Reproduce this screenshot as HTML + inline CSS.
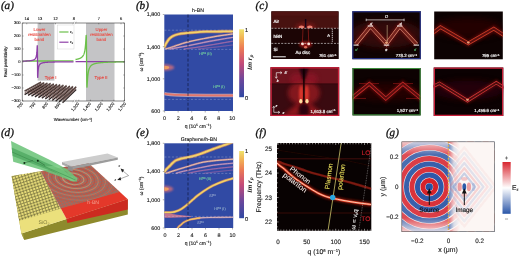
<!DOCTYPE html>
<html><head><meta charset="utf-8"><title>Figure</title>
<style>
html,body{margin:0;padding:0;background:#fff;}
body{width:520px;height:259px;overflow:hidden;}
svg{display:block;filter:blur(0.3px);}
</style></head><body>
<svg width="520" height="259" viewBox="0 0 520 259" text-rendering="geometricPrecision">
<defs>
<filter id="b03" filterUnits="userSpaceOnUse" x="0" y="0" width="520" height="259"><feGaussianBlur stdDeviation="0.3"/></filter>
<filter id="b04" filterUnits="userSpaceOnUse" x="0" y="0" width="520" height="259"><feGaussianBlur stdDeviation="0.4"/></filter>
<filter id="b05" filterUnits="userSpaceOnUse" x="0" y="0" width="520" height="259"><feGaussianBlur stdDeviation="0.5"/></filter>
<filter id="b1" filterUnits="userSpaceOnUse" x="0" y="0" width="520" height="259"><feGaussianBlur stdDeviation="1"/></filter>
<filter id="b2" filterUnits="userSpaceOnUse" x="0" y="0" width="520" height="259"><feGaussianBlur stdDeviation="2"/></filter>
<filter id="b3" filterUnits="userSpaceOnUse" x="0" y="0" width="520" height="259"><feGaussianBlur stdDeviation="3"/></filter>
<linearGradient id="cbar" x1="0" y1="1" x2="0" y2="0">
<stop offset="0" stop-color="#2f48a2"/><stop offset="0.25" stop-color="#6a479c"/><stop offset="0.5" stop-color="#c44a78"/><stop offset="0.72" stop-color="#ec7a55"/><stop offset="0.88" stop-color="#f2b556"/><stop offset="1" stop-color="#efe26a"/>
</linearGradient>
<linearGradient id="cbarg" x1="0" y1="0" x2="0" y2="1">
<stop offset="0" stop-color="#d8262f"/><stop offset="0.5" stop-color="#ffffff"/><stop offset="1" stop-color="#2a56a8"/>
</linearGradient>
</defs>

<rect x="0" y="0" width="520" height="259" fill="#fff"/>
<text x="0.9" y="9.4" font-size="11.2" fill="#111" text-anchor="start" font-family='"Liberation Serif", "DejaVu Serif", serif' font-style="italic"  stroke="#111" stroke-width="0.3">(a)</text>
<rect x="37.6" y="23" width="16.8" height="78" fill="#c4c4c6"/>
<rect x="86" y="23" width="28.5" height="78" fill="#c4c4c6"/>
<rect x="23" y="80.6" width="55.5" height="20.2" fill="#fff"/>
<g><line x1="24.60" y1="94.60" x2="41.00" y2="84.92" stroke="#2c2222" stroke-width="1.3"/><line x1="24.60" y1="92.90" x2="41.00" y2="83.56" stroke="#8a6a64" stroke-width="1.0"/><line x1="24.60" y1="91.20" x2="41.00" y2="82.20" stroke="#3a2a28" stroke-width="1.5"/><line x1="24.60" y1="90.65" x2="41.00" y2="81.76" stroke="#a08880" stroke-width="0.45"/><line x1="28.05" y1="95.35" x2="44.20" y2="85.34" stroke="#2c2222" stroke-width="1.3"/><line x1="28.05" y1="93.65" x2="44.20" y2="83.98" stroke="#8a6a64" stroke-width="1.0"/><line x1="28.05" y1="91.95" x2="44.20" y2="82.62" stroke="#3a2a28" stroke-width="1.5"/><line x1="28.05" y1="91.40" x2="44.20" y2="82.18" stroke="#a08880" stroke-width="0.45"/><line x1="31.50" y1="96.10" x2="47.40" y2="85.76" stroke="#2c2222" stroke-width="1.3"/><line x1="31.50" y1="94.40" x2="47.40" y2="84.40" stroke="#8a6a64" stroke-width="1.0"/><line x1="31.50" y1="92.70" x2="47.40" y2="83.04" stroke="#3a2a28" stroke-width="1.5"/><line x1="31.50" y1="92.15" x2="47.40" y2="82.60" stroke="#a08880" stroke-width="0.45"/><line x1="34.95" y1="96.85" x2="50.60" y2="86.18" stroke="#2c2222" stroke-width="1.3"/><line x1="34.95" y1="95.15" x2="50.60" y2="84.82" stroke="#8a6a64" stroke-width="1.0"/><line x1="34.95" y1="93.45" x2="50.60" y2="83.46" stroke="#3a2a28" stroke-width="1.5"/><line x1="34.95" y1="92.90" x2="50.60" y2="83.02" stroke="#a08880" stroke-width="0.45"/><line x1="38.40" y1="97.60" x2="53.80" y2="86.60" stroke="#2c2222" stroke-width="1.3"/><line x1="38.40" y1="95.90" x2="53.80" y2="85.24" stroke="#8a6a64" stroke-width="1.0"/><line x1="38.40" y1="94.20" x2="53.80" y2="83.88" stroke="#3a2a28" stroke-width="1.5"/><line x1="38.40" y1="93.65" x2="53.80" y2="83.44" stroke="#a08880" stroke-width="0.45"/><line x1="41.85" y1="98.35" x2="57.00" y2="87.02" stroke="#2c2222" stroke-width="1.3"/><line x1="41.85" y1="96.65" x2="57.00" y2="85.66" stroke="#8a6a64" stroke-width="1.0"/><line x1="41.85" y1="94.95" x2="57.00" y2="84.30" stroke="#3a2a28" stroke-width="1.5"/><line x1="41.85" y1="94.40" x2="57.00" y2="83.86" stroke="#a08880" stroke-width="0.45"/><line x1="45.30" y1="99.10" x2="60.20" y2="87.44" stroke="#2c2222" stroke-width="1.3"/><line x1="45.30" y1="97.40" x2="60.20" y2="86.08" stroke="#8a6a64" stroke-width="1.0"/><line x1="45.30" y1="95.70" x2="60.20" y2="84.72" stroke="#3a2a28" stroke-width="1.5"/><line x1="45.30" y1="95.15" x2="60.20" y2="84.28" stroke="#a08880" stroke-width="0.45"/><line x1="48.75" y1="99.85" x2="63.40" y2="87.86" stroke="#2c2222" stroke-width="1.3"/><line x1="48.75" y1="98.15" x2="63.40" y2="86.50" stroke="#8a6a64" stroke-width="1.0"/><line x1="48.75" y1="96.45" x2="63.40" y2="85.14" stroke="#3a2a28" stroke-width="1.5"/><line x1="48.75" y1="95.90" x2="63.40" y2="84.70" stroke="#a08880" stroke-width="0.45"/><line x1="52.20" y1="100.60" x2="66.60" y2="88.28" stroke="#2c2222" stroke-width="1.3"/><line x1="52.20" y1="98.90" x2="66.60" y2="86.92" stroke="#8a6a64" stroke-width="1.0"/><line x1="52.20" y1="97.20" x2="66.60" y2="85.56" stroke="#3a2a28" stroke-width="1.5"/><line x1="52.20" y1="96.65" x2="66.60" y2="85.12" stroke="#a08880" stroke-width="0.45"/><line x1="55.65" y1="101.35" x2="69.80" y2="88.70" stroke="#2c2222" stroke-width="1.3"/><line x1="55.65" y1="99.65" x2="69.80" y2="87.34" stroke="#8a6a64" stroke-width="1.0"/><line x1="55.65" y1="97.95" x2="69.80" y2="85.98" stroke="#3a2a28" stroke-width="1.5"/><line x1="55.65" y1="97.40" x2="69.80" y2="85.54" stroke="#a08880" stroke-width="0.45"/><line x1="59.10" y1="102.10" x2="73.00" y2="89.12" stroke="#2c2222" stroke-width="1.3"/><line x1="59.10" y1="100.40" x2="73.00" y2="87.76" stroke="#8a6a64" stroke-width="1.0"/><line x1="59.10" y1="98.70" x2="73.00" y2="86.40" stroke="#3a2a28" stroke-width="1.5"/><line x1="59.10" y1="98.15" x2="73.00" y2="85.96" stroke="#a08880" stroke-width="0.45"/><line x1="62.55" y1="102.85" x2="76.20" y2="89.54" stroke="#2c2222" stroke-width="1.3"/><line x1="62.55" y1="101.15" x2="76.20" y2="88.18" stroke="#8a6a64" stroke-width="1.0"/><line x1="62.55" y1="99.45" x2="76.20" y2="86.82" stroke="#3a2a28" stroke-width="1.5"/><line x1="62.55" y1="98.90" x2="76.20" y2="86.38" stroke="#a08880" stroke-width="0.45"/></g>
<polyline points="22.50,61.03 22.62,61.03 22.75,61.03 22.88,61.03 23.00,61.03 23.12,61.03 23.25,61.03 23.38,61.03 23.50,61.03 23.62,61.03 23.75,61.03 23.88,61.03 24.00,61.03 24.12,61.03 24.25,61.03 24.38,61.03 24.50,61.03 24.62,61.03 24.75,61.03 24.88,61.03 25.00,61.03 25.12,61.03 25.25,61.02 25.38,61.02 25.50,61.02 25.62,61.02 25.75,61.02 25.88,61.02 26.00,61.02 26.12,61.02 26.25,61.02 26.38,61.02 26.50,61.02 26.62,61.02 26.75,61.02 26.88,61.02 27.00,61.02 27.12,61.02 27.25,61.02 27.38,61.02 27.50,61.02 27.62,61.02 27.75,61.02 27.88,61.02 28.00,61.02 28.12,61.02 28.25,61.02 28.38,61.02 28.50,61.02 28.62,61.02 28.75,61.02 28.88,61.02 29.00,61.02 29.12,61.02 29.25,61.02 29.38,61.02 29.50,61.02 29.62,61.02 29.75,61.02 29.88,61.02 30.00,61.02 30.12,61.02 30.25,61.02 30.38,61.02 30.50,61.02 30.62,61.02 30.75,61.02 30.88,61.02 31.00,61.02 31.12,61.02 31.25,61.02 31.38,61.02 31.50,61.02 31.62,61.02 31.75,61.02 31.88,61.02 32.00,61.01 32.12,61.01 32.25,61.01 32.38,61.01 32.50,61.01 32.62,61.01 32.75,61.01 32.88,61.01 33.00,61.01 33.12,61.01 33.25,61.01 33.38,61.01 33.50,61.01 33.62,61.01 33.75,61.01 33.88,61.01 34.00,61.01 34.12,61.01 34.25,61.01 34.38,61.01 34.50,61.01 34.62,61.01 34.75,61.01 34.88,61.01 35.00,61.01 35.12,61.01 35.25,61.01 35.38,61.01 35.50,61.01 35.62,61.01 35.75,61.01 35.88,61.01 36.00,61.01 36.12,61.01 36.25,61.01 36.38,61.01 36.50,61.01 36.62,61.01 36.75,61.01 36.88,61.01 37.00,61.01 37.12,61.01 37.25,61.01 37.38,61.01 37.50,61.01 37.62,61.01 37.75,61.01 37.88,61.01 38.00,61.01 38.12,61.01 38.25,61.00 38.38,61.00 38.50,61.00 38.62,61.00 38.75,61.00 38.88,61.00 39.00,61.00 39.12,61.00 39.25,61.00 39.38,61.00 39.50,61.00 39.62,61.00 39.75,61.00 39.88,61.00 40.00,61.00 40.12,61.00 40.25,61.00 40.38,61.00 40.50,61.00 40.62,61.00 40.75,61.00 40.88,61.00 41.00,61.00 41.12,61.00 41.25,61.00 41.38,61.00 41.50,61.00 41.62,61.00 41.75,61.00 41.88,61.00 42.00,61.00 42.12,61.00 42.25,61.00 42.38,61.00 42.50,61.00 42.62,61.00 42.75,61.00 42.88,61.00 43.00,61.00 43.12,61.00 43.25,61.00 43.38,61.00 43.50,61.00 43.62,61.00 43.75,61.00 43.88,60.99 44.00,60.99 44.12,60.99 44.25,60.99 44.38,60.99 44.50,60.99 44.62,60.99 44.75,60.99 44.88,60.99 45.00,60.99 45.12,60.99 45.25,60.99 45.38,60.99 45.50,60.99 45.62,60.99 45.75,60.99 45.88,60.99 46.00,60.99 46.12,60.99 46.25,60.99 46.38,60.99 46.50,60.99 46.62,60.99 46.75,60.99 46.88,60.99 47.00,60.99 47.12,60.99 47.25,60.99 47.38,60.99 47.50,60.99 47.62,60.99 47.75,60.99 47.88,60.99 48.00,60.99 48.12,60.99 48.25,60.99 48.38,60.99 48.50,60.99 48.62,60.99 48.75,60.99 48.88,60.99 49.00,60.98 49.12,60.98 49.25,60.98 49.38,60.98 49.50,60.98 49.62,60.98 49.75,60.98 49.88,60.98 50.00,60.98 50.12,60.98 50.25,60.98 50.38,60.98 50.50,60.98 50.62,60.98 50.75,60.98 50.88,60.98 51.00,60.98 51.12,60.98 51.25,60.98 51.38,60.98 51.50,60.98 51.62,60.98 51.75,60.98 51.88,60.98 52.00,60.98 52.12,60.98 52.25,60.98 52.38,60.98 52.50,60.98 52.62,60.98 52.75,60.98 52.88,60.98 53.00,60.98 53.12,60.98 53.25,60.98 53.38,60.98 53.50,60.98 53.62,60.98 53.75,60.98 53.88,60.97 54.00,60.97 54.12,60.97 54.25,60.97 54.38,60.97 54.50,60.97 54.62,60.97 54.75,60.97 54.88,60.97 55.00,60.97 55.12,60.97 55.25,60.97 55.38,60.97 55.50,60.97 55.62,60.97 55.75,60.97 55.88,60.97 56.00,60.97 56.12,60.97 56.25,60.97 56.38,60.97 56.50,60.97 56.62,60.97 56.75,60.97 56.88,60.97 57.00,60.97 57.12,60.97 57.25,60.97 57.38,60.97 57.50,60.97 57.62,60.97 57.75,60.97 57.88,60.97 58.00,60.97 58.12,60.97 58.25,60.97 58.38,60.96 58.50,60.96 58.62,60.96 58.75,60.96 58.88,60.96 59.00,60.96 59.12,60.96 59.25,60.96 59.38,60.96 59.50,60.96 59.62,60.96 59.75,60.96 59.88,60.96 60.00,60.96 60.12,60.96 60.25,60.96 60.38,60.96 60.50,60.96 60.62,60.96 60.75,60.96 60.88,60.96 61.00,60.96 61.12,60.96 61.25,60.96 61.38,60.96 61.50,60.96 61.62,60.96 61.75,60.96 61.88,60.96 62.00,60.96 62.12,60.96 62.25,60.96 62.38,60.96 62.50,60.95 62.62,60.95 62.75,60.95 62.88,60.95 63.00,60.95 63.12,60.95 63.25,60.95 63.38,60.95 63.50,60.95 63.62,60.95 63.75,60.95 63.88,60.95 64.00,60.95 64.12,60.95 64.25,60.95 64.38,60.95 64.50,60.95 64.62,60.95 64.75,60.95 64.88,60.95 65.00,60.95 65.12,60.95 65.25,60.95 65.38,60.95 65.50,60.95 65.62,60.95 65.75,60.95 65.88,60.95 66.00,60.95 66.12,60.95 66.25,60.95 66.38,60.94 66.50,60.94 66.62,60.94 66.75,60.94 66.88,60.94 67.00,60.94 67.12,60.94 67.25,60.94 67.38,60.94 67.50,60.94 67.62,60.94 67.75,60.94 67.88,60.94 68.00,60.94 68.12,60.94 68.25,60.94 68.38,60.94 68.50,60.94 68.62,60.94 68.75,60.94 68.88,60.94 69.00,60.94 69.12,60.94 69.25,60.94 69.38,60.94 69.50,60.94 69.62,60.94 69.75,60.94 69.88,60.94 70.00,60.93 70.12,60.93 70.25,60.93 70.38,60.93 70.50,60.93 70.62,60.93 70.75,60.93 70.88,60.93 71.00,60.93 71.12,60.93 71.25,60.93 71.38,60.93 71.50,60.93 71.62,60.93 71.75,60.93 71.88,60.93 72.00,60.93 72.12,60.93 72.25,60.93 72.38,60.93 72.50,60.93 72.62,60.93 72.75,60.93 72.88,60.93 73.00,60.93 73.12,60.93 73.25,60.93 73.38,60.93 73.50,60.92" fill="none" stroke="#6cc04a" stroke-width="1.3" stroke-linejoin="round"/>
<polyline points="22.50,61.17 22.62,61.16 22.75,61.16 22.88,61.15 23.00,61.15 23.12,61.15 23.25,61.14 23.38,61.14 23.50,61.13 23.62,61.13 23.75,61.13 23.88,61.12 24.00,61.12 24.12,61.11 24.25,61.11 24.38,61.10 24.50,61.10 24.62,61.09 24.75,61.09 24.88,61.08 25.00,61.08 25.12,61.07 25.25,61.07 25.38,61.06 25.50,61.06 25.62,61.05 25.75,61.05 25.88,61.04 26.00,61.03 26.12,61.03 26.25,61.02 26.38,61.01 26.50,61.01 26.62,61.00 26.75,60.99 26.88,60.99 27.00,60.98 27.12,60.97 27.25,60.97 27.38,60.96 27.50,60.95 27.62,60.94 27.75,60.93 27.88,60.92 28.00,60.92 28.12,60.91 28.25,60.90 28.38,60.89 28.50,60.88 28.62,60.87 28.75,60.86 28.88,60.85 29.00,60.83 29.12,60.82 29.25,60.81 29.38,60.80 29.50,60.79 29.62,60.77 29.75,60.76 29.88,60.75 30.00,60.73 30.12,60.72 30.25,60.70 30.38,60.69 30.50,60.67 30.62,60.65 30.75,60.64 30.88,60.62 31.00,60.60 31.12,60.58 31.25,60.56 31.38,60.54 31.50,60.52 31.62,60.49 31.75,60.47 31.88,60.45 32.00,60.42 32.12,60.39 32.25,60.36 32.38,60.33 32.50,60.30 32.62,60.27 32.75,60.23 32.88,60.20 33.00,60.16 33.12,60.12 33.25,60.07 33.38,60.03 33.50,59.98 33.62,59.93 33.75,59.87 33.88,59.81 34.00,59.75 34.12,59.68 34.25,59.61 34.38,59.53 34.50,59.44 34.62,59.35 34.75,59.25 34.88,59.14 35.00,59.02 35.12,58.88 35.25,58.73 35.38,58.57 35.50,58.38 35.62,58.17 35.75,57.93 35.88,57.66 36.00,57.34 36.12,56.97 36.25,56.53 36.38,56.00 36.50,55.35 36.62,54.54 36.75,53.51 36.88,52.17 37.00,50.39 37.12,48.11 37.25,45.75 37.38,47.00 37.50,61.62 37.62,76.21 37.75,77.45 37.88,75.09 38.00,72.80 38.12,71.03 38.25,69.69 38.38,68.66 38.50,67.85 38.62,67.20 38.75,66.67 38.88,66.23 39.00,65.86 39.12,65.54 39.25,65.26 39.38,65.03 39.50,64.82 39.62,64.63 39.75,64.46 39.88,64.32 40.00,64.18 40.12,64.06 40.25,63.95 40.38,63.85 40.50,63.76 40.62,63.67 40.75,63.59 40.88,63.52 41.00,63.45 41.12,63.39 41.25,63.33 41.38,63.27 41.50,63.22 41.62,63.17 41.75,63.13 41.88,63.08 42.00,63.04 42.12,63.00 42.25,62.97 42.38,62.93 42.50,62.90 42.62,62.87 42.75,62.84 42.88,62.81 43.00,62.78 43.12,62.75 43.25,62.73 43.38,62.70 43.50,62.68 43.62,62.66 43.75,62.64 43.88,62.62 44.00,62.60 44.12,62.58 44.25,62.56 44.38,62.54 44.50,62.53 44.62,62.51 44.75,62.50 44.88,62.48 45.00,62.47 45.12,62.45 45.25,62.44 45.38,62.42 45.50,62.41 45.62,62.40 45.75,62.39 45.88,62.38 46.00,62.36 46.12,62.35 46.25,62.34 46.38,62.33 46.50,62.32 46.62,62.31 46.75,62.30 46.88,62.29 47.00,62.28 47.12,62.27 47.25,62.27 47.38,62.26 47.50,62.25 47.62,62.24 47.75,62.23 47.88,62.23 48.00,62.22 48.12,62.21 48.25,62.20 48.38,62.20 48.50,62.19 48.62,62.18 48.75,62.18 48.88,62.17 49.00,62.16 49.12,62.16 49.25,62.15 49.38,62.15 49.50,62.14 49.62,62.14 49.75,62.13 49.88,62.12 50.00,62.12 50.12,62.11 50.25,62.11 50.38,62.10 50.50,62.10 50.62,62.09 50.75,62.09 50.88,62.09 51.00,62.08 51.12,62.08 51.25,62.07 51.38,62.07 51.50,62.06 51.62,62.06 51.75,62.06 51.88,62.05 52.00,62.05 52.12,62.04 52.25,62.04 52.38,62.04 52.50,62.03 52.62,62.03 52.75,62.03 52.88,62.02 53.00,62.02 53.12,62.02 53.25,62.01 53.38,62.01 53.50,62.01 53.62,62.00 53.75,62.00 53.88,62.00 54.00,61.99 54.12,61.99 54.25,61.99 54.38,61.99 54.50,61.98 54.62,61.98 54.75,61.98 54.88,61.97 55.00,61.97 55.12,61.97 55.25,61.97 55.38,61.96 55.50,61.96 55.62,61.96 55.75,61.96 55.88,61.95 56.00,61.95 56.12,61.95 56.25,61.95 56.38,61.94 56.50,61.94 56.62,61.94 56.75,61.94 56.88,61.94 57.00,61.93 57.12,61.93 57.25,61.93 57.38,61.93 57.50,61.93 57.62,61.92 57.75,61.92 57.88,61.92 58.00,61.92 58.12,61.92 58.25,61.91 58.38,61.91 58.50,61.91 58.62,61.91 58.75,61.91 58.88,61.90 59.00,61.90 59.12,61.90 59.25,61.90 59.38,61.90 59.50,61.90 59.62,61.89 59.75,61.89 59.88,61.89 60.00,61.89 60.12,61.89 60.25,61.89 60.38,61.88 60.50,61.88 60.62,61.88 60.75,61.88 60.88,61.88 61.00,61.88 61.12,61.88 61.25,61.87 61.38,61.87 61.50,61.87 61.62,61.87 61.75,61.87 61.88,61.87 62.00,61.87 62.12,61.86 62.25,61.86 62.38,61.86 62.50,61.86 62.62,61.86 62.75,61.86 62.88,61.86 63.00,61.86 63.12,61.85 63.25,61.85 63.38,61.85 63.50,61.85 63.62,61.85 63.75,61.85 63.88,61.85 64.00,61.85 64.12,61.84 64.25,61.84 64.38,61.84 64.50,61.84 64.62,61.84 64.75,61.84 64.88,61.84 65.00,61.84 65.12,61.84 65.25,61.83 65.38,61.83 65.50,61.83 65.62,61.83 65.75,61.83 65.88,61.83 66.00,61.83 66.12,61.83 66.25,61.83 66.38,61.83 66.50,61.82 66.62,61.82 66.75,61.82 66.88,61.82 67.00,61.82 67.12,61.82 67.25,61.82 67.38,61.82 67.50,61.82 67.62,61.82 67.75,61.82 67.88,61.81 68.00,61.81 68.12,61.81 68.25,61.81 68.38,61.81 68.50,61.81 68.62,61.81 68.75,61.81 68.88,61.81 69.00,61.81 69.12,61.81 69.25,61.81 69.38,61.80 69.50,61.80 69.62,61.80 69.75,61.80 69.88,61.80 70.00,61.80 70.12,61.80 70.25,61.80 70.38,61.80 70.50,61.80 70.62,61.80 70.75,61.80 70.88,61.80 71.00,61.79 71.12,61.79 71.25,61.79 71.38,61.79 71.50,61.79 71.62,61.79 71.75,61.79 71.88,61.79 72.00,61.79 72.12,61.79 72.25,61.79 72.38,61.79 72.50,61.79 72.62,61.79 72.75,61.79 72.88,61.78 73.00,61.78 73.12,61.78 73.25,61.78 73.38,61.78 73.50,61.78" fill="none" stroke="#8e3fa8" stroke-width="1.3" stroke-linejoin="round"/>
<polyline points="75.53,61.65 75.59,61.65 75.65,61.65 75.71,61.65 75.77,61.65 75.83,61.65 75.88,61.65 75.94,61.65 76.00,61.65 76.06,61.65 76.12,61.65 76.18,61.65 76.23,61.65 76.29,61.65 76.35,61.65 76.41,61.65 76.47,61.65 76.53,61.65 76.59,61.65 76.64,61.65 76.70,61.65 76.76,61.65 76.82,61.65 76.88,61.65 76.94,61.65 77.00,61.65 77.05,61.65 77.11,61.65 77.17,61.65 77.23,61.65 77.29,61.65 77.35,61.65 77.40,61.65 77.46,61.65 77.52,61.65 77.58,61.65 77.64,61.65 77.70,61.65 77.76,61.65 77.81,61.65 77.87,61.65 77.93,61.65 77.99,61.65 78.05,61.65 78.11,61.65 78.17,61.65 78.22,61.65 78.28,61.65 78.34,61.65 78.40,61.65 78.46,61.65 78.52,61.65 78.57,61.65 78.63,61.65 78.69,61.65 78.75,61.65 78.81,61.65 78.87,61.65 78.93,61.65 78.98,61.65 79.04,61.65 79.10,61.65 79.16,61.65 79.22,61.65 79.28,61.65 79.33,61.65 79.39,61.65 79.45,61.65 79.51,61.65 79.57,61.65 79.63,61.65 79.69,61.65 79.74,61.65 79.80,61.65 79.86,61.65 79.92,61.65 79.98,61.65 80.04,61.65 80.10,61.65 80.15,61.65 80.21,61.65 80.27,61.65 80.33,61.65 80.39,61.65 80.45,61.65 80.50,61.65 80.56,61.65 80.62,61.65 80.68,61.65 80.74,61.65 80.80,61.65 80.86,61.65 80.91,61.65 80.97,61.65 81.03,61.65 81.09,61.65 81.15,61.65 81.21,61.65 81.27,61.65 81.32,61.65 81.38,61.65 81.44,61.65 81.50,61.65 81.56,61.65 81.62,61.65 81.67,61.65 81.73,61.65 81.79,61.65 81.85,61.65 81.91,61.65 81.97,61.65 82.03,61.65 82.08,61.65 82.14,61.65 82.20,61.65 82.26,61.65 82.32,61.65 82.38,61.65 82.44,61.65 82.49,61.65 82.55,61.65 82.61,61.65 82.67,61.65 82.73,61.65 82.79,61.65 82.84,61.65 82.90,61.65 82.96,61.65 83.02,61.65 83.08,61.65 83.14,61.65 83.20,61.65 83.25,61.65 83.31,61.65 83.37,61.65 83.43,61.65 83.49,61.65 83.55,61.65 83.61,61.65 83.66,61.65 83.72,61.65 83.78,61.65 83.84,61.65 83.90,61.65 83.96,61.65 84.02,61.65 84.07,61.65 84.13,61.65 84.19,61.65 84.25,61.65 84.31,61.65 84.37,61.65 84.42,61.65 84.48,61.65 84.54,61.65 84.60,61.65 84.66,61.65 84.72,61.65 84.78,61.65 84.83,61.65 84.89,61.65 84.95,61.65 85.01,61.65 85.07,61.65 85.13,61.65 85.19,61.65 85.24,61.65 85.30,61.65 85.36,61.65 85.42,61.65 85.48,61.65 85.54,61.65 85.59,61.65 85.65,61.65 85.71,61.65 85.77,61.65 85.83,61.65 85.89,61.65 85.95,61.65 86.00,61.65 86.06,61.65 86.12,61.65 86.18,61.65 86.24,61.65 86.30,61.65 86.36,61.65 86.41,61.65 86.47,61.65 86.53,61.65 86.59,61.65 86.65,61.65 86.71,61.65 86.76,61.65 86.82,61.65 86.88,61.65 86.94,61.65 87.00,61.65 87.06,61.65 87.12,61.65 87.17,61.65 87.23,61.65 87.29,61.65 87.35,61.65 87.41,61.65 87.47,61.65 87.53,61.65 87.58,61.65 87.64,61.65 87.70,61.65 87.76,61.65 87.82,61.65 87.88,61.65 87.93,61.65 87.99,61.65 88.05,61.65 88.11,61.65 88.17,61.65 88.23,61.65 88.29,61.65 88.34,61.65 88.40,61.65 88.46,61.65 88.52,61.65 88.58,61.65 88.64,61.65 88.69,61.65 88.75,61.65 88.81,61.65 88.87,61.65 88.93,61.65 88.99,61.65 89.05,61.65 89.10,61.65 89.16,61.65 89.22,61.65 89.28,61.65 89.34,61.65 89.40,61.65 89.46,61.65 89.51,61.65 89.57,61.65 89.63,61.65 89.69,61.65 89.75,61.65 89.81,61.65 89.86,61.65 89.92,61.65 89.98,61.65 90.04,61.65 90.10,61.65 90.16,61.65 90.22,61.65 90.27,61.65 90.33,61.65 90.39,61.65 90.45,61.65 90.51,61.65 90.57,61.65 90.63,61.64 90.68,61.64 90.74,61.64 90.80,61.64 90.86,61.64 90.92,61.64 90.98,61.64 91.03,61.64 91.09,61.64 91.15,61.64 91.21,61.64 91.27,61.64 91.33,61.64 91.39,61.64 91.44,61.64 91.50,61.64 91.56,61.64 91.62,61.64 91.68,61.64 91.74,61.64 91.80,61.64 91.85,61.64 91.91,61.64 91.97,61.64 92.03,61.64 92.09,61.64 92.15,61.64 92.20,61.64 92.26,61.64 92.32,61.64 92.38,61.64 92.44,61.64 92.50,61.64 92.56,61.64 92.61,61.64 92.67,61.64 92.73,61.64 92.79,61.64 92.85,61.64 92.91,61.64 92.97,61.64 93.02,61.64 93.08,61.64 93.14,61.64 93.20,61.64 93.26,61.64 93.32,61.64 93.38,61.64 93.43,61.64 93.49,61.64 93.55,61.64 93.61,61.64 93.67,61.64 93.73,61.64 93.78,61.64 93.84,61.64 93.90,61.64 93.96,61.64 94.02,61.64 94.08,61.64 94.14,61.64 94.19,61.64 94.25,61.64 94.31,61.64 94.37,61.64 94.43,61.64 94.49,61.64 94.55,61.64 94.60,61.64 94.66,61.64 94.72,61.64 94.78,61.64 94.84,61.64 94.90,61.64 94.95,61.64 95.01,61.64 95.07,61.64 95.13,61.64 95.19,61.64 95.25,61.64 95.31,61.64 95.36,61.64 95.42,61.64 95.48,61.64 95.54,61.64 95.60,61.64 95.66,61.64 95.72,61.64 95.77,61.64 95.83,61.64 95.89,61.64 95.95,61.64 96.01,61.64 96.07,61.64 96.12,61.64 96.18,61.64 96.24,61.64 96.30,61.64 96.36,61.64 96.42,61.64 96.48,61.64 96.53,61.64 96.59,61.64 96.65,61.64 96.71,61.64 96.77,61.64 96.83,61.64 96.89,61.64 96.94,61.64 97.00,61.64 97.06,61.64 97.12,61.64 97.18,61.64 97.24,61.64 97.29,61.64 97.35,61.64 97.41,61.64 97.47,61.64 97.53,61.64 97.59,61.64 97.65,61.64 97.70,61.64 97.76,61.64 97.82,61.64 97.88,61.64 97.94,61.64 98.00,61.64 98.05,61.64 98.11,61.64 98.17,61.64 98.23,61.64 98.29,61.64 98.35,61.64 98.41,61.64 98.46,61.64 98.52,61.64 98.58,61.64 98.64,61.64 98.70,61.64 98.76,61.64 98.82,61.64 98.87,61.64 98.93,61.64 98.99,61.64 99.05,61.64 99.11,61.64 99.17,61.64 99.22,61.64 99.28,61.64 99.34,61.64 99.40,61.64 99.46,61.64 99.52,61.64 99.58,61.64 99.63,61.64 99.69,61.64 99.75,61.64 99.81,61.64 99.87,61.64 99.93,61.64 99.99,61.64 100.04,61.64 100.10,61.64 100.16,61.64 100.22,61.64 100.28,61.64 100.34,61.64 100.39,61.64 100.45,61.64 100.51,61.64 100.57,61.64 100.63,61.64 100.69,61.64 100.75,61.64 100.80,61.64 100.86,61.64 100.92,61.64 100.98,61.64 101.04,61.64 101.10,61.64 101.16,61.64 101.21,61.64 101.27,61.64 101.33,61.64 101.39,61.64 101.45,61.64 101.51,61.64 101.56,61.64 101.62,61.64 101.68,61.64 101.74,61.64 101.80,61.64 101.86,61.64 101.92,61.64 101.97,61.64 102.03,61.64 102.09,61.64 102.15,61.64 102.21,61.64 102.27,61.64 102.33,61.64 102.38,61.64 102.44,61.64 102.50,61.64 102.56,61.64 102.62,61.64 102.68,61.64 102.73,61.64 102.79,61.64 102.85,61.64 102.91,61.64 102.97,61.64 103.03,61.64 103.09,61.64 103.14,61.64 103.20,61.64 103.26,61.64 103.32,61.64 103.38,61.64 103.44,61.64 103.50,61.64 103.55,61.64 103.61,61.64 103.67,61.64 103.73,61.64 103.79,61.64 103.85,61.64 103.91,61.64 103.96,61.64 104.02,61.64 104.08,61.64 104.14,61.64 104.20,61.64 104.26,61.64 104.31,61.64 104.37,61.64 104.43,61.64 104.49,61.64 104.55,61.64 104.61,61.64 104.67,61.64 104.72,61.64 104.78,61.64 104.84,61.64 104.90,61.64 104.96,61.64 105.02,61.64 105.08,61.64 105.13,61.64 105.19,61.64 105.25,61.64 105.31,61.64 105.37,61.64 105.43,61.64 105.48,61.64 105.54,61.64 105.60,61.64 105.66,61.64 105.72,61.64 105.78,61.64 105.84,61.64 105.89,61.64 105.95,61.64 106.01,61.64 106.07,61.64 106.13,61.64 106.19,61.64 106.25,61.64 106.30,61.64 106.36,61.64 106.42,61.64 106.48,61.64 106.54,61.64 106.60,61.64 106.65,61.64 106.71,61.64 106.77,61.64 106.83,61.64 106.89,61.64 106.95,61.64 107.01,61.64 107.06,61.64 107.12,61.64 107.18,61.64 107.24,61.64 107.30,61.64 107.36,61.64 107.41,61.64 107.47,61.64 107.53,61.64 107.59,61.64 107.65,61.64 107.71,61.64 107.77,61.64 107.82,61.64 107.88,61.64 107.94,61.64 108.00,61.64 108.06,61.64 108.12,61.64 108.18,61.64 108.23,61.64 108.29,61.64 108.35,61.64 108.41,61.64 108.47,61.64 108.53,61.64 108.59,61.64 108.64,61.64 108.70,61.64 108.76,61.64 108.82,61.64 108.88,61.64 108.94,61.64 108.99,61.64 109.05,61.64 109.11,61.64 109.17,61.64 109.23,61.64 109.29,61.64 109.35,61.64 109.40,61.64 109.46,61.64 109.52,61.64 109.58,61.64 109.64,61.64 109.70,61.64 109.75,61.64 109.81,61.64 109.87,61.64 109.93,61.64 109.99,61.64 110.05,61.64 110.11,61.64 110.16,61.64 110.22,61.64 110.28,61.64 110.34,61.64 110.40,61.64 110.46,61.64 110.52,61.64 110.57,61.64 110.63,61.64 110.69,61.64 110.75,61.64 110.81,61.64 110.87,61.64 110.92,61.64 110.98,61.64 111.04,61.64 111.10,61.64 111.16,61.64 111.22,61.64 111.28,61.64 111.33,61.64 111.39,61.64 111.45,61.64 111.51,61.64 111.57,61.64 111.63,61.64 111.69,61.64 111.74,61.64 111.80,61.64 111.86,61.64 111.92,61.64 111.98,61.64 112.04,61.64 112.09,61.64 112.15,61.64 112.21,61.64 112.27,61.64 112.33,61.64 112.39,61.64 112.45,61.64 112.50,61.64 112.56,61.64 112.62,61.64 112.68,61.64 112.74,61.64 112.80,61.64 112.86,61.64 112.91,61.64 112.97,61.64 113.03,61.64 113.09,61.64 113.15,61.64 113.21,61.64 113.27,61.64 113.32,61.64 113.38,61.64 113.44,61.64 113.50,61.64 113.56,61.64 113.62,61.64 113.67,61.64 113.73,61.64 113.79,61.64 113.85,61.64 113.91,61.64 113.97,61.64 114.03,61.64 114.08,61.64 114.14,61.64 114.20,61.64 114.26,61.64 114.32,61.64 114.38,61.64 114.44,61.64 114.49,61.64 114.55,61.64 114.61,61.64 114.67,61.64 114.73,61.64 114.79,61.64 114.84,61.64 114.90,61.64 114.96,61.64 115.02,61.64 115.08,61.64 115.14,61.64 115.20,61.64 115.25,61.64 115.31,61.64 115.37,61.64 115.43,61.64 115.49,61.64 115.55,61.64 115.60,61.64 115.66,61.64 115.72,61.64 115.78,61.64 115.84,61.64 115.90,61.64 115.96,61.64 116.01,61.64 116.07,61.64 116.13,61.64 116.19,61.64 116.25,61.64 116.31,61.64 116.37,61.64 116.42,61.64 116.48,61.64 116.54,61.64 116.60,61.64 116.66,61.64 116.72,61.64 116.78,61.64 116.83,61.64 116.89,61.64 116.95,61.64 117.01,61.64 117.07,61.64 117.13,61.64 117.18,61.64 117.24,61.64 117.30,61.64 117.36,61.64 117.42,61.64 117.48,61.64 117.54,61.64 117.59,61.64 117.65,61.64 117.71,61.64 117.77,61.64 117.83,61.64 117.89,61.64 117.94,61.64 118.00,61.64 118.06,61.64 118.12,61.64 118.18,61.64 118.24,61.64 118.30,61.64 118.35,61.64 118.41,61.64 118.47,61.64 118.53,61.64 118.59,61.64 118.65,61.64 118.71,61.64 118.76,61.64 118.82,61.64 118.88,61.64 118.94,61.64 119.00,61.64 119.06,61.64 119.11,61.64 119.17,61.64 119.23,61.64 119.29,61.64 119.35,61.64 119.41,61.63 119.47,61.63 119.52,61.63 119.58,61.63 119.64,61.63 119.70,61.63 119.76,61.63 119.82,61.63 119.88,61.63 119.93,61.63 119.99,61.63 120.05,61.63 120.11,61.63 120.17,61.63 120.23,61.63 120.28,61.63 120.34,61.63 120.40,61.63 120.46,61.63 120.52,61.63 120.58,61.63 120.64,61.63 120.69,61.63 120.75,61.63 120.81,61.63 120.87,61.63 120.93,61.63 120.99,61.63 121.05,61.63 121.10,61.63 121.16,61.63 121.22,61.63 121.28,61.63 121.34,61.63 121.40,61.63 121.45,61.63 121.51,61.63 121.57,61.63 121.63,61.63 121.69,61.63 121.75,61.63 121.81,61.63 121.86,61.63 121.92,61.63 121.98,61.63 122.04,61.63 122.10,61.63 122.16,61.63 122.22,61.63 122.27,61.63 122.33,61.63 122.39,61.63 122.45,61.63 122.51,61.63 122.57,61.63 122.62,61.63 122.68,61.63 122.74,61.63 122.80,61.63 122.86,61.63 122.92,61.63 122.98,61.63 123.03,61.63 123.09,61.63 123.15,61.63 123.21,61.63 123.27,61.63 123.33,61.63 123.39,61.63 123.44,61.63 123.50,61.63 123.56,61.63 123.62,61.63 123.68,61.63 123.74,61.63 123.80,61.63 123.85,61.63 123.91,61.63 123.97,61.63 124.03,61.63 124.09,61.63 124.15,61.63 124.20,61.63 124.26,61.63 124.32,61.63 124.38,61.63 124.44,61.63 124.50,61.63" fill="none" stroke="#8e3fa8" stroke-width="1.3" stroke-linejoin="round"/>
<polyline points="75.53,59.52 75.59,59.51 75.65,59.50 75.71,59.49 75.77,59.48 75.83,59.47 75.88,59.46 75.94,59.45 76.00,59.44 76.06,59.43 76.12,59.42 76.18,59.41 76.23,59.40 76.29,59.39 76.35,59.38 76.41,59.36 76.47,59.35 76.53,59.34 76.59,59.33 76.64,59.32 76.70,59.31 76.76,59.30 76.82,59.28 76.88,59.27 76.94,59.26 77.00,59.25 77.05,59.23 77.11,59.22 77.17,59.21 77.23,59.20 77.29,59.18 77.35,59.17 77.40,59.16 77.46,59.14 77.52,59.13 77.58,59.11 77.64,59.10 77.70,59.09 77.76,59.07 77.81,59.06 77.87,59.04 77.93,59.03 77.99,59.01 78.05,59.00 78.11,58.98 78.17,58.96 78.22,58.95 78.28,58.93 78.34,58.91 78.40,58.90 78.46,58.88 78.52,58.86 78.57,58.84 78.63,58.83 78.69,58.81 78.75,58.79 78.81,58.77 78.87,58.75 78.93,58.73 78.98,58.71 79.04,58.69 79.10,58.67 79.16,58.65 79.22,58.63 79.28,58.61 79.33,58.59 79.39,58.57 79.45,58.54 79.51,58.52 79.57,58.50 79.63,58.48 79.69,58.45 79.74,58.43 79.80,58.40 79.86,58.38 79.92,58.35 79.98,58.33 80.04,58.30 80.10,58.27 80.15,58.25 80.21,58.22 80.27,58.19 80.33,58.16 80.39,58.13 80.45,58.10 80.50,58.07 80.56,58.04 80.62,58.01 80.68,57.98 80.74,57.94 80.80,57.91 80.86,57.88 80.91,57.84 80.97,57.80 81.03,57.77 81.09,57.73 81.15,57.69 81.21,57.65 81.27,57.61 81.32,57.57 81.38,57.53 81.44,57.49 81.50,57.45 81.56,57.40 81.62,57.36 81.67,57.31 81.73,57.26 81.79,57.21 81.85,57.16 81.91,57.11 81.97,57.06 82.03,57.01 82.08,56.95 82.14,56.90 82.20,56.84 82.26,56.78 82.32,56.72 82.38,56.66 82.44,56.59 82.49,56.53 82.55,56.46 82.61,56.39 82.67,56.32 82.73,56.24 82.79,56.17 82.84,56.09 82.90,56.01 82.96,55.92 83.02,55.84 83.08,55.75 83.14,55.65 83.20,55.56 83.25,55.46 83.31,55.36 83.37,55.26 83.43,55.15 83.49,55.03 83.55,54.92 83.61,54.80 83.66,54.67 83.72,54.54 83.78,54.40 83.84,54.26 83.90,54.11 83.96,53.96 84.02,53.80 84.07,53.64 84.13,53.46 84.19,53.28 84.25,53.09 84.31,52.89 84.37,52.68 84.42,52.46 84.48,52.23 84.54,51.99 84.60,51.73 84.66,51.47 84.72,51.18 84.78,50.88 84.83,50.57 84.89,50.23 84.95,49.87 85.01,49.50 85.07,49.10 85.13,48.67 85.19,48.21 85.24,47.72 85.30,47.20 85.36,46.65 85.42,46.05 85.48,45.41 85.54,44.73 85.59,44.00 85.65,43.21 85.71,42.37 85.77,41.49 85.83,40.55 85.89,39.57 85.95,38.58 86.00,37.60 86.06,36.68 86.12,35.91 86.18,35.44 86.24,35.46 86.30,36.25 86.36,38.17 86.41,41.60 86.47,46.77 86.53,53.56 86.59,61.36 86.65,69.15 86.71,75.93 86.76,81.07 86.82,84.47 86.88,86.37 86.94,87.15 87.00,87.16 87.06,86.68 87.12,85.91 87.17,84.99 87.23,84.01 87.29,83.01 87.35,82.04 87.41,81.10 87.47,80.22 87.53,79.38 87.58,78.60 87.64,77.86 87.70,77.18 87.76,76.54 87.82,75.95 87.88,75.39 87.93,74.87 87.99,74.38 88.05,73.93 88.11,73.50 88.17,73.10 88.23,72.72 88.29,72.37 88.34,72.03 88.40,71.72 88.46,71.42 88.52,71.13 88.58,70.86 88.64,70.61 88.69,70.37 88.75,70.14 88.81,69.92 88.87,69.71 88.93,69.51 88.99,69.32 89.05,69.14 89.10,68.96 89.16,68.80 89.22,68.64 89.28,68.49 89.34,68.34 89.40,68.20 89.46,68.06 89.51,67.93 89.57,67.81 89.63,67.68 89.69,67.57 89.75,67.45 89.81,67.35 89.86,67.24 89.92,67.14 89.98,67.04 90.04,66.95 90.10,66.85 90.16,66.77 90.22,66.68 90.27,66.60 90.33,66.51 90.39,66.44 90.45,66.36 90.51,66.29 90.57,66.21 90.63,66.14 90.68,66.08 90.74,66.01 90.80,65.95 90.86,65.88 90.92,65.82 90.98,65.76 91.03,65.71 91.09,65.65 91.15,65.59 91.21,65.54 91.27,65.49 91.33,65.44 91.39,65.39 91.44,65.34 91.50,65.29 91.56,65.24 91.62,65.20 91.68,65.16 91.74,65.11 91.80,65.07 91.85,65.03 91.91,64.99 91.97,64.95 92.03,64.91 92.09,64.87 92.15,64.83 92.20,64.80 92.26,64.76 92.32,64.73 92.38,64.69 92.44,64.66 92.50,64.63 92.56,64.59 92.61,64.56 92.67,64.53 92.73,64.50 92.79,64.47 92.85,64.44 92.91,64.41 92.97,64.38 93.02,64.36 93.08,64.33 93.14,64.30 93.20,64.28 93.26,64.25 93.32,64.22 93.38,64.20 93.43,64.17 93.49,64.15 93.55,64.13 93.61,64.10 93.67,64.08 93.73,64.06 93.78,64.04 93.84,64.01 93.90,63.99 93.96,63.97 94.02,63.95 94.08,63.93 94.14,63.91 94.19,63.89 94.25,63.87 94.31,63.85 94.37,63.83 94.43,63.81 94.49,63.79 94.55,63.78 94.60,63.76 94.66,63.74 94.72,63.72 94.78,63.71 94.84,63.69 94.90,63.67 94.95,63.66 95.01,63.64 95.07,63.62 95.13,63.61 95.19,63.59 95.25,63.58 95.31,63.56 95.36,63.55 95.42,63.53 95.48,63.52 95.54,63.50 95.60,63.49 95.66,63.47 95.72,63.46 95.77,63.45 95.83,63.43 95.89,63.42 95.95,63.41 96.01,63.39 96.07,63.38 96.12,63.37 96.18,63.36 96.24,63.34 96.30,63.33 96.36,63.32 96.42,63.31 96.48,63.29 96.53,63.28 96.59,63.27 96.65,63.26 96.71,63.25 96.77,63.24 96.83,63.23 96.89,63.22 96.94,63.21 97.00,63.19 97.06,63.18 97.12,63.17 97.18,63.16 97.24,63.15 97.29,63.14 97.35,63.13 97.41,63.12 97.47,63.11 97.53,63.10 97.59,63.09 97.65,63.08 97.70,63.08 97.76,63.07 97.82,63.06 97.88,63.05 97.94,63.04 98.00,63.03 98.05,63.02 98.11,63.01 98.17,63.00 98.23,63.00 98.29,62.99 98.35,62.98 98.41,62.97 98.46,62.96 98.52,62.95 98.58,62.95 98.64,62.94 98.70,62.93 98.76,62.92 98.82,62.91 98.87,62.91 98.93,62.90 98.99,62.89 99.05,62.88 99.11,62.88 99.17,62.87 99.22,62.86 99.28,62.86 99.34,62.85 99.40,62.84 99.46,62.83 99.52,62.83 99.58,62.82 99.63,62.81 99.69,62.81 99.75,62.80 99.81,62.79 99.87,62.79 99.93,62.78 99.99,62.77 100.04,62.77 100.10,62.76 100.16,62.76 100.22,62.75 100.28,62.74 100.34,62.74 100.39,62.73 100.45,62.73 100.51,62.72 100.57,62.71 100.63,62.71 100.69,62.70 100.75,62.70 100.80,62.69 100.86,62.68 100.92,62.68 100.98,62.67 101.04,62.67 101.10,62.66 101.16,62.66 101.21,62.65 101.27,62.65 101.33,62.64 101.39,62.64 101.45,62.63 101.51,62.63 101.56,62.62 101.62,62.61 101.68,62.61 101.74,62.60 101.80,62.60 101.86,62.59 101.92,62.59 101.97,62.59 102.03,62.58 102.09,62.58 102.15,62.57 102.21,62.57 102.27,62.56 102.33,62.56 102.38,62.55 102.44,62.55 102.50,62.54 102.56,62.54 102.62,62.53 102.68,62.53 102.73,62.52 102.79,62.52 102.85,62.52 102.91,62.51 102.97,62.51 103.03,62.50 103.09,62.50 103.14,62.49 103.20,62.49 103.26,62.49 103.32,62.48 103.38,62.48 103.44,62.47 103.50,62.47 103.55,62.47 103.61,62.46 103.67,62.46 103.73,62.45 103.79,62.45 103.85,62.45 103.91,62.44 103.96,62.44 104.02,62.44 104.08,62.43 104.14,62.43 104.20,62.42 104.26,62.42 104.31,62.42 104.37,62.41 104.43,62.41 104.49,62.41 104.55,62.40 104.61,62.40 104.67,62.40 104.72,62.39 104.78,62.39 104.84,62.38 104.90,62.38 104.96,62.38 105.02,62.37 105.08,62.37 105.13,62.37 105.19,62.36 105.25,62.36 105.31,62.36 105.37,62.35 105.43,62.35 105.48,62.35 105.54,62.34 105.60,62.34 105.66,62.34 105.72,62.34 105.78,62.33 105.84,62.33 105.89,62.33 105.95,62.32 106.01,62.32 106.07,62.32 106.13,62.31 106.19,62.31 106.25,62.31 106.30,62.30 106.36,62.30 106.42,62.30 106.48,62.30 106.54,62.29 106.60,62.29 106.65,62.29 106.71,62.28 106.77,62.28 106.83,62.28 106.89,62.28 106.95,62.27 107.01,62.27 107.06,62.27 107.12,62.27 107.18,62.26 107.24,62.26 107.30,62.26 107.36,62.25 107.41,62.25 107.47,62.25 107.53,62.25 107.59,62.24 107.65,62.24 107.71,62.24 107.77,62.24 107.82,62.23 107.88,62.23 107.94,62.23 108.00,62.23 108.06,62.22 108.12,62.22 108.18,62.22 108.23,62.22 108.29,62.21 108.35,62.21 108.41,62.21 108.47,62.21 108.53,62.20 108.59,62.20 108.64,62.20 108.70,62.20 108.76,62.19 108.82,62.19 108.88,62.19 108.94,62.19 108.99,62.19 109.05,62.18 109.11,62.18 109.17,62.18 109.23,62.18 109.29,62.17 109.35,62.17 109.40,62.17 109.46,62.17 109.52,62.17 109.58,62.16 109.64,62.16 109.70,62.16 109.75,62.16 109.81,62.15 109.87,62.15 109.93,62.15 109.99,62.15 110.05,62.15 110.11,62.14 110.16,62.14 110.22,62.14 110.28,62.14 110.34,62.14 110.40,62.13 110.46,62.13 110.52,62.13 110.57,62.13 110.63,62.13 110.69,62.12 110.75,62.12 110.81,62.12 110.87,62.12 110.92,62.12 110.98,62.11 111.04,62.11 111.10,62.11 111.16,62.11 111.22,62.11 111.28,62.10 111.33,62.10 111.39,62.10 111.45,62.10 111.51,62.10 111.57,62.10 111.63,62.09 111.69,62.09 111.74,62.09 111.80,62.09 111.86,62.09 111.92,62.08 111.98,62.08 112.04,62.08 112.09,62.08 112.15,62.08 112.21,62.08 112.27,62.07 112.33,62.07 112.39,62.07 112.45,62.07 112.50,62.07 112.56,62.07 112.62,62.06 112.68,62.06 112.74,62.06 112.80,62.06 112.86,62.06 112.91,62.05 112.97,62.05 113.03,62.05 113.09,62.05 113.15,62.05 113.21,62.05 113.27,62.05 113.32,62.04 113.38,62.04 113.44,62.04 113.50,62.04 113.56,62.04 113.62,62.04 113.67,62.03 113.73,62.03 113.79,62.03 113.85,62.03 113.91,62.03 113.97,62.03 114.03,62.02 114.08,62.02 114.14,62.02 114.20,62.02 114.26,62.02 114.32,62.02 114.38,62.02 114.44,62.01 114.49,62.01 114.55,62.01 114.61,62.01 114.67,62.01 114.73,62.01 114.79,62.01 114.84,62.00 114.90,62.00 114.96,62.00 115.02,62.00 115.08,62.00 115.14,62.00 115.20,62.00 115.25,61.99 115.31,61.99 115.37,61.99 115.43,61.99 115.49,61.99 115.55,61.99 115.60,61.99 115.66,61.98 115.72,61.98 115.78,61.98 115.84,61.98 115.90,61.98 115.96,61.98 116.01,61.98 116.07,61.98 116.13,61.97 116.19,61.97 116.25,61.97 116.31,61.97 116.37,61.97 116.42,61.97 116.48,61.97 116.54,61.96 116.60,61.96 116.66,61.96 116.72,61.96 116.78,61.96 116.83,61.96 116.89,61.96 116.95,61.96 117.01,61.95 117.07,61.95 117.13,61.95 117.18,61.95 117.24,61.95 117.30,61.95 117.36,61.95 117.42,61.95 117.48,61.95 117.54,61.94 117.59,61.94 117.65,61.94 117.71,61.94 117.77,61.94 117.83,61.94 117.89,61.94 117.94,61.94 118.00,61.93 118.06,61.93 118.12,61.93 118.18,61.93 118.24,61.93 118.30,61.93 118.35,61.93 118.41,61.93 118.47,61.93 118.53,61.92 118.59,61.92 118.65,61.92 118.71,61.92 118.76,61.92 118.82,61.92 118.88,61.92 118.94,61.92 119.00,61.92 119.06,61.91 119.11,61.91 119.17,61.91 119.23,61.91 119.29,61.91 119.35,61.91 119.41,61.91 119.47,61.91 119.52,61.91 119.58,61.90 119.64,61.90 119.70,61.90 119.76,61.90 119.82,61.90 119.88,61.90 119.93,61.90 119.99,61.90 120.05,61.90 120.11,61.90 120.17,61.89 120.23,61.89 120.28,61.89 120.34,61.89 120.40,61.89 120.46,61.89 120.52,61.89 120.58,61.89 120.64,61.89 120.69,61.89 120.75,61.88 120.81,61.88 120.87,61.88 120.93,61.88 120.99,61.88 121.05,61.88 121.10,61.88 121.16,61.88 121.22,61.88 121.28,61.88 121.34,61.87 121.40,61.87 121.45,61.87 121.51,61.87 121.57,61.87 121.63,61.87 121.69,61.87 121.75,61.87 121.81,61.87 121.86,61.87 121.92,61.87 121.98,61.86 122.04,61.86 122.10,61.86 122.16,61.86 122.22,61.86 122.27,61.86 122.33,61.86 122.39,61.86 122.45,61.86 122.51,61.86 122.57,61.86 122.62,61.85 122.68,61.85 122.74,61.85 122.80,61.85 122.86,61.85 122.92,61.85 122.98,61.85 123.03,61.85 123.09,61.85 123.15,61.85 123.21,61.85 123.27,61.85 123.33,61.84 123.39,61.84 123.44,61.84 123.50,61.84 123.56,61.84 123.62,61.84 123.68,61.84 123.74,61.84 123.80,61.84 123.85,61.84 123.91,61.84 123.97,61.84 124.03,61.83 124.09,61.83 124.15,61.83 124.20,61.83 124.26,61.83 124.32,61.83 124.38,61.83 124.44,61.83 124.50,61.83" fill="none" stroke="#6cc04a" stroke-width="1.3" stroke-linejoin="round"/>
<path d="M73.5 23 H22.3 V101 H73.5 M75.5 23 H124.5 V101 H75.5" fill="none" stroke="#333" stroke-width="0.6"/>
<path d="M72.8 24.2 L74.2 21.8 M74.8 24.2 L76.2 21.8" stroke="#333" stroke-width="0.4" fill="none"/>
<path d="M72.8 102.2 L74.2 99.8 M74.8 102.2 L76.2 99.8" stroke="#333" stroke-width="0.4" fill="none"/>
<path d="M22.3 101.00 h1.3 M124.5 101.00 h-1.3 M22.3 88.00 h1.3 M124.5 88.00 h-1.3 M22.3 75.00 h1.3 M124.5 75.00 h-1.3 M22.3 62.00 h1.3 M124.5 62.00 h-1.3 M22.3 49.00 h1.3 M124.5 49.00 h-1.3 M22.3 36.00 h1.3 M124.5 36.00 h-1.3 M22.3 23.00 h1.3 M124.5 23.00 h-1.3 M22.50 101 v-1.3 M35.00 101 v-1.3 M47.50 101 v-1.3 M60.00 101 v-1.3 M78.75 101 v-1.3 M90.45 101 v-1.3 M102.15 101 v-1.3 M113.85 101 v-1.3 M124.50 101 v-1.3 M26.75 23 v1.3 M40.00 23 v1.3 M55.50 23 v1.3 M98.75 23 v1.3 M121.00 23 v1.3" stroke="#333" stroke-width="0.4" fill="none"/>
<text x="20.6" y="102.4" font-size="4.0" fill="#222" text-anchor="end" font-family='"Liberation Sans", "DejaVu Sans", sans-serif'  stroke="#222" stroke-width="0.14">−300</text>
<text x="20.6" y="89.4" font-size="4.0" fill="#222" text-anchor="end" font-family='"Liberation Sans", "DejaVu Sans", sans-serif'  stroke="#222" stroke-width="0.14">−200</text>
<text x="20.6" y="76.4" font-size="4.0" fill="#222" text-anchor="end" font-family='"Liberation Sans", "DejaVu Sans", sans-serif'  stroke="#222" stroke-width="0.14">−100</text>
<text x="20.6" y="63.4" font-size="4.0" fill="#222" text-anchor="end" font-family='"Liberation Sans", "DejaVu Sans", sans-serif'  stroke="#222" stroke-width="0.14">0</text>
<text x="20.6" y="50.4" font-size="4.0" fill="#222" text-anchor="end" font-family='"Liberation Sans", "DejaVu Sans", sans-serif'  stroke="#222" stroke-width="0.14">100</text>
<text x="20.6" y="37.4" font-size="4.0" fill="#222" text-anchor="end" font-family='"Liberation Sans", "DejaVu Sans", sans-serif'  stroke="#222" stroke-width="0.14">200</text>
<text x="20.6" y="24.4" font-size="4.0" fill="#222" text-anchor="end" font-family='"Liberation Sans", "DejaVu Sans", sans-serif'  stroke="#222" stroke-width="0.14">300</text>
<text x="26.75" y="19.6" font-size="4.0" fill="#222" text-anchor="middle" font-family='"Liberation Sans", "DejaVu Sans", sans-serif'  stroke="#222" stroke-width="0.14">14</text>
<text x="40" y="19.6" font-size="4.0" fill="#222" text-anchor="middle" font-family='"Liberation Sans", "DejaVu Sans", sans-serif'  stroke="#222" stroke-width="0.14">13</text>
<text x="55.5" y="19.6" font-size="4.0" fill="#222" text-anchor="middle" font-family='"Liberation Sans", "DejaVu Sans", sans-serif'  stroke="#222" stroke-width="0.14">12</text>
<text x="73.9" y="19.6" font-size="4.0" fill="#222" text-anchor="middle" font-family='"Liberation Sans", "DejaVu Sans", sans-serif'  stroke="#222" stroke-width="0.14">8</text>
<text x="98.75" y="19.6" font-size="4.0" fill="#222" text-anchor="middle" font-family='"Liberation Sans", "DejaVu Sans", sans-serif'  stroke="#222" stroke-width="0.14">7</text>
<text x="121" y="19.6" font-size="4.0" fill="#222" text-anchor="middle" font-family='"Liberation Sans", "DejaVu Sans", sans-serif'  stroke="#222" stroke-width="0.14">6</text>
<text x="23.3" y="103.8" font-size="4.0" fill="#222" text-anchor="end" font-family='"Liberation Sans", "DejaVu Sans", sans-serif' transform="rotate(-50 23.3 103.8)"  stroke="#222" stroke-width="0.14">700</text>
<text x="35.8" y="103.8" font-size="4.0" fill="#222" text-anchor="end" font-family='"Liberation Sans", "DejaVu Sans", sans-serif' transform="rotate(-50 35.8 103.8)"  stroke="#222" stroke-width="0.14">750</text>
<text x="48.3" y="103.8" font-size="4.0" fill="#222" text-anchor="end" font-family='"Liberation Sans", "DejaVu Sans", sans-serif' transform="rotate(-50 48.3 103.8)"  stroke="#222" stroke-width="0.14">800</text>
<text x="60.8" y="103.8" font-size="4.0" fill="#222" text-anchor="end" font-family='"Liberation Sans", "DejaVu Sans", sans-serif' transform="rotate(-50 60.8 103.8)"  stroke="#222" stroke-width="0.14">850</text>
<text x="79.55" y="103.8" font-size="4.0" fill="#222" text-anchor="end" font-family='"Liberation Sans", "DejaVu Sans", sans-serif' transform="rotate(-50 79.55 103.8)"  stroke="#222" stroke-width="0.14">1,300</text>
<text x="91.25" y="103.8" font-size="4.0" fill="#222" text-anchor="end" font-family='"Liberation Sans", "DejaVu Sans", sans-serif' transform="rotate(-50 91.25 103.8)"  stroke="#222" stroke-width="0.14">1,400</text>
<text x="102.95" y="103.8" font-size="4.0" fill="#222" text-anchor="end" font-family='"Liberation Sans", "DejaVu Sans", sans-serif' transform="rotate(-50 102.95 103.8)"  stroke="#222" stroke-width="0.14">1,500</text>
<text x="114.64999999999999" y="103.8" font-size="4.0" fill="#222" text-anchor="end" font-family='"Liberation Sans", "DejaVu Sans", sans-serif' transform="rotate(-50 114.64999999999999 103.8)"  stroke="#222" stroke-width="0.14">1,600</text>
<text x="126.35" y="103.8" font-size="4.0" fill="#222" text-anchor="end" font-family='"Liberation Sans", "DejaVu Sans", sans-serif' transform="rotate(-50 126.35 103.8)"  stroke="#222" stroke-width="0.14">1,700</text>
<text x="73" y="121.0" font-size="4.3" fill="#222" text-anchor="middle" font-family='"Liberation Sans", "DejaVu Sans", sans-serif'  stroke="#222" stroke-width="0.14">Wavenumber (cm<tspan dy="-1.5" font-size="2.8">−1</tspan><tspan dy="1.5">)</tspan></text>
<text x="7.2" y="62" font-size="4.3" fill="#222" text-anchor="middle" font-family='"Liberation Sans", "DejaVu Sans", sans-serif' transform="rotate(-90 7.2 62)"  stroke="#222" stroke-width="0.14">Real permittivity</text>
<rect x="57.5" y="25" width="16.5" height="24" fill="#fff" stroke="#bbb" stroke-width="0.3"/>
<line x1="59.3" y1="32" x2="68.5" y2="32" stroke="#6cc04a" stroke-width="1.2"/>
<line x1="59.3" y1="42.2" x2="68.5" y2="42.2" stroke="#8e3fa8" stroke-width="1.2"/>
<text x="70" y="33.2" font-size="3.8" fill="#333" text-anchor="start" font-family='"Liberation Sans", "DejaVu Sans", sans-serif' font-style="italic"  stroke="#333" stroke-width="0.14">ε<tspan dy="0.9" font-size="2.6">t</tspan></text>
<text x="70" y="43.4" font-size="3.8" fill="#333" text-anchor="start" font-family='"Liberation Sans", "DejaVu Sans", sans-serif' font-style="italic"  stroke="#333" stroke-width="0.14">ε<tspan dy="0.9" font-size="2.6">z</tspan></text>
<text x="39.4" y="31.3" font-size="4.3" fill="#ea5048" text-anchor="middle" font-family='"Liberation Sans", "DejaVu Sans", sans-serif'  stroke="#ea5048" stroke-width="0.14">Lower</text>
<text x="39.4" y="36.3" font-size="4.3" fill="#ea5048" text-anchor="middle" font-family='"Liberation Sans", "DejaVu Sans", sans-serif'  stroke="#ea5048" stroke-width="0.14">reststrahlen</text>
<text x="39.4" y="41.3" font-size="4.3" fill="#ea5048" text-anchor="middle" font-family='"Liberation Sans", "DejaVu Sans", sans-serif'  stroke="#ea5048" stroke-width="0.14">band</text>
<text x="101.4" y="31.3" font-size="4.3" fill="#ea5048" text-anchor="middle" font-family='"Liberation Sans", "DejaVu Sans", sans-serif'  stroke="#ea5048" stroke-width="0.14">Upper</text>
<text x="101.4" y="36.3" font-size="4.3" fill="#ea5048" text-anchor="middle" font-family='"Liberation Sans", "DejaVu Sans", sans-serif'  stroke="#ea5048" stroke-width="0.14">reststrahlen</text>
<text x="101.4" y="41.3" font-size="4.3" fill="#ea5048" text-anchor="middle" font-family='"Liberation Sans", "DejaVu Sans", sans-serif'  stroke="#ea5048" stroke-width="0.14">band</text>
<text x="50.5" y="79.0" font-size="4.3" fill="#e8463f" text-anchor="middle" font-family='"Liberation Sans", "DejaVu Sans", sans-serif'  stroke="#e8463f" stroke-width="0.14">Type I</text>
<text x="101" y="79.0" font-size="4.3" fill="#e8463f" text-anchor="middle" font-family='"Liberation Sans", "DejaVu Sans", sans-serif'  stroke="#e8463f" stroke-width="0.14">Type II</text>
<text x="135.9" y="9.4" font-size="11.2" fill="#111" text-anchor="start" font-family='"Liberation Serif", "DejaVu Serif", serif' font-style="italic"  stroke="#111" stroke-width="0.3">(b)</text>
<rect x="164.3" y="14.5" width="68.69999999999999" height="96.5" fill="#314aa4"/>
<clipPath id="clipb"><rect x="164.3" y="14.5" width="68.69999999999999" height="96.5"/></clipPath>
<g clip-path="url(#clipb)"><ellipse cx="164.3" cy="67.5" rx="10" ry="3.2" fill="#d8707a" opacity="0.8" filter="url(#b1)"/><ellipse cx="164.3" cy="67.5" rx="5" ry="1.8" fill="#f0a060" opacity="0.95" filter="url(#b05)"/></g>
<g clip-path="url(#clipb)" opacity="1.0"><path d="M164.30 47.20 C164.58 46.60 165.18 44.98 166.00 43.60 C166.82 42.22 168.20 40.07 169.20 38.90 C170.20 37.73 170.97 37.25 172.00 36.60 C173.03 35.95 173.90 35.50 175.40 35.00 C176.90 34.50 178.95 33.97 181.00 33.60 C183.05 33.23 184.87 33.05 187.70 32.80 C190.53 32.55 194.95 32.28 198.00 32.10 C201.05 31.92 202.17 31.80 206.00 31.70 C209.83 31.60 216.57 31.55 221.00 31.50 C225.43 31.45 230.67 31.42 232.60 31.40" fill="none" stroke="#e89058" stroke-width="3.3" opacity="0.7" filter="url(#b05)"/><path d="M164.30 47.20 C164.58 46.60 165.18 44.98 166.00 43.60 C166.82 42.22 168.20 40.07 169.20 38.90 C170.20 37.73 170.97 37.25 172.00 36.60 C173.03 35.95 173.90 35.50 175.40 35.00 C176.90 34.50 178.95 33.97 181.00 33.60 C183.05 33.23 184.87 33.05 187.70 32.80 C190.53 32.55 194.95 32.28 198.00 32.10 C201.05 31.92 202.17 31.80 206.00 31.70 C209.83 31.60 216.57 31.55 221.00 31.50 C225.43 31.45 230.67 31.42 232.60 31.40" fill="none" stroke="#f4d468" stroke-width="1.8" stroke-linecap="round"/></g>
<g clip-path="url(#clipb)" opacity="1.0"><path d="M165.50 48.90 C166.25 48.72 167.92 48.45 170.00 47.80 C172.08 47.15 175.05 45.97 178.00 45.00 C180.95 44.03 184.37 42.88 187.70 42.00 C191.03 41.12 194.95 40.33 198.00 39.70 C201.05 39.07 202.17 38.88 206.00 38.20 C209.83 37.52 216.57 36.30 221.00 35.60 C225.43 34.90 230.67 34.27 232.60 34.00" fill="none" stroke="#d88a90" stroke-width="2.0" opacity="0.7" filter="url(#b05)"/><path d="M165.50 48.90 C166.25 48.72 167.92 48.45 170.00 47.80 C172.08 47.15 175.05 45.97 178.00 45.00 C180.95 44.03 184.37 42.88 187.70 42.00 C191.03 41.12 194.95 40.33 198.00 39.70 C201.05 39.07 202.17 38.88 206.00 38.20 C209.83 37.52 216.57 36.30 221.00 35.60 C225.43 34.90 230.67 34.27 232.60 34.00" fill="none" stroke="#efc8aa" stroke-width="0.9" stroke-linecap="round"/></g>
<g clip-path="url(#clipb)" opacity="0.95"><path d="M170.00 49.00 C171.33 48.77 175.05 48.13 178.00 47.60 C180.95 47.07 184.37 46.45 187.70 45.80 C191.03 45.15 194.95 44.33 198.00 43.70 C201.05 43.07 202.17 42.73 206.00 42.00 C209.83 41.27 216.57 40.07 221.00 39.30 C225.43 38.53 230.67 37.72 232.60 37.40" fill="none" stroke="#a870a8" stroke-width="1.8" opacity="0.7" filter="url(#b05)"/><path d="M170.00 49.00 C171.33 48.77 175.05 48.13 178.00 47.60 C180.95 47.07 184.37 46.45 187.70 45.80 C191.03 45.15 194.95 44.33 198.00 43.70 C201.05 43.07 202.17 42.73 206.00 42.00 C209.83 41.27 216.57 40.07 221.00 39.30 C225.43 38.53 230.67 37.72 232.60 37.40" fill="none" stroke="#dcaec2" stroke-width="0.8" stroke-linecap="round"/></g>
<g clip-path="url(#clipb)" opacity="0.9"><path d="M184.00 49.00 C186.00 48.73 192.33 47.93 196.00 47.40 C199.67 46.87 201.83 46.50 206.00 45.80 C210.17 45.10 216.57 43.97 221.00 43.20 C225.43 42.43 230.67 41.53 232.60 41.20" fill="none" stroke="#8a5aa0" stroke-width="1.5" opacity="0.7" filter="url(#b05)"/><path d="M184.00 49.00 C186.00 48.73 192.33 47.93 196.00 47.40 C199.67 46.87 201.83 46.50 206.00 45.80 C210.17 45.10 216.57 43.97 221.00 43.20 C225.43 42.43 230.67 41.53 232.60 41.20" fill="none" stroke="#bc7aaa" stroke-width="0.7" stroke-linecap="round"/></g>
<g clip-path="url(#clipb)" opacity="0.8"><path d="M198.00 49.00 C200.83 48.70 209.23 47.87 215.00 47.20 C220.77 46.53 229.67 45.37 232.60 45.00" fill="none" stroke="#7a58a0" stroke-width="1.2" opacity="0.7" filter="url(#b05)"/><path d="M198.00 49.00 C200.83 48.70 209.23 47.87 215.00 47.20 C220.77 46.53 229.67 45.37 232.60 45.00" fill="none" stroke="#9a68aa" stroke-width="0.55" stroke-linecap="round"/></g>
<path d="M164.3 30.2 H233.0 M164.3 49.4 H233.0" stroke="#b9c6e2" stroke-width="0.5" stroke-dasharray="2.2 1.6" fill="none" opacity="0.7"/>
<g clip-path="url(#clipb)"><path d="M164.3 93.6 C170 94.9 176 95.3 233.0 95.5" stroke="#dcb8bc" stroke-width="3.5" fill="none" opacity="0.75" filter="url(#b05)"/><path d="M164.3 93.6 C170 94.9 176 95.3 233.0 95.5" stroke="#e4766a" stroke-width="1.8" fill="none" filter="url(#b04)"/></g>
<path d="M164.3 99.4 H233.0" stroke="#b9c6e2" stroke-width="0.5" stroke-dasharray="2.2 1.6" fill="none" opacity="0.7"/>
<path d="M188 14.5 V111" stroke="#0a0e2c" stroke-width="0.6" stroke-dasharray="3 1.9" fill="none"/>
<text x="205.5" y="55.3" font-size="3.8" fill="#6fc6a0" text-anchor="middle" font-family='"Liberation Sans", "DejaVu Sans", sans-serif'  stroke="#6fc6a0" stroke-width="0.14">HP<tspan dy="-1.3" font-size="2.6">2</tspan><tspan dy="1.3"> (II)</tspan></text>
<text x="219" y="87.8" font-size="3.8" fill="#6fc6a0" text-anchor="middle" font-family='"Liberation Sans", "DejaVu Sans", sans-serif'  stroke="#6fc6a0" stroke-width="0.14">HP<tspan dy="-1.3" font-size="2.6">2</tspan><tspan dy="1.3"> (I)</tspan></text>
<text x="198" y="11.8" font-size="5.2" fill="#222" text-anchor="middle" font-family='"Liberation Sans", "DejaVu Sans", sans-serif'  stroke="#222" stroke-width="0.14">h-BN</text>
<text x="160.2" y="16.4" font-size="5.4" fill="#222" text-anchor="end" font-family='"Liberation Sans", "DejaVu Sans", sans-serif'  stroke="#222" stroke-width="0.14">1,800</text>
<text x="160.2" y="48.56666666666666" font-size="5.4" fill="#222" text-anchor="end" font-family='"Liberation Sans", "DejaVu Sans", sans-serif'  stroke="#222" stroke-width="0.14">1,400</text>
<text x="160.2" y="80.73333333333333" font-size="5.4" fill="#222" text-anchor="end" font-family='"Liberation Sans", "DejaVu Sans", sans-serif'  stroke="#222" stroke-width="0.14">1,000</text>
<text x="160.2" y="112.9" font-size="5.4" fill="#222" text-anchor="end" font-family='"Liberation Sans", "DejaVu Sans", sans-serif'  stroke="#222" stroke-width="0.14">600</text>
<text x="164.6" y="119.9" font-size="5.4" fill="#222" text-anchor="middle" font-family='"Liberation Sans", "DejaVu Sans", sans-serif'  stroke="#222" stroke-width="0.14">0</text>
<text x="178.14" y="119.9" font-size="5.4" fill="#222" text-anchor="middle" font-family='"Liberation Sans", "DejaVu Sans", sans-serif'  stroke="#222" stroke-width="0.14">2</text>
<text x="191.68" y="119.9" font-size="5.4" fill="#222" text-anchor="middle" font-family='"Liberation Sans", "DejaVu Sans", sans-serif'  stroke="#222" stroke-width="0.14">4</text>
<text x="205.22" y="119.9" font-size="5.4" fill="#222" text-anchor="middle" font-family='"Liberation Sans", "DejaVu Sans", sans-serif'  stroke="#222" stroke-width="0.14">6</text>
<text x="218.76" y="119.9" font-size="5.4" fill="#222" text-anchor="middle" font-family='"Liberation Sans", "DejaVu Sans", sans-serif'  stroke="#222" stroke-width="0.14">8</text>
<text x="232.29999999999998" y="119.9" font-size="5.4" fill="#222" text-anchor="middle" font-family='"Liberation Sans", "DejaVu Sans", sans-serif'  stroke="#222" stroke-width="0.14">10</text>
<path d="M164.3 14.50 h-1.5 M164.3 46.67 h-1.5 M164.3 78.83 h-1.5 M164.3 111.00 h-1.5 M164.60 111 v1.5 M178.14 111 v1.5 M191.68 111 v1.5 M205.22 111 v1.5 M218.76 111 v1.5 M232.30 111 v1.5" stroke="#333" stroke-width="0.4" fill="none"/>
<text x="198" y="127.6" font-size="5.0" fill="#222" text-anchor="middle" font-family='"Liberation Sans", "DejaVu Sans", sans-serif'  stroke="#222" stroke-width="0.14">q (10<tspan dy="-1.5" font-size="3.3">5</tspan><tspan dy="1.5"> cm</tspan><tspan dy="-1.5" font-size="3.3">−1</tspan><tspan dy="1.5">)</tspan></text>
<text x="142.5" y="62" font-size="5.0" fill="#222" text-anchor="middle" font-family='"Liberation Sans", "DejaVu Sans", sans-serif' transform="rotate(-90 142.5 62)"  stroke="#222" stroke-width="0.14">ω (cm<tspan dy="-1.5" font-size="3.3">−1</tspan><tspan dy="1.5">)</tspan></text>
<rect x="239.2" y="29.3" width="4.8" height="67.9" fill="url(#cbar)"/>
<text x="245" y="31.8" font-size="5.6" fill="#222" text-anchor="start" font-family='"Liberation Sans", "DejaVu Sans", sans-serif'  stroke="#222" stroke-width="0.14">1</text>
<text x="245" y="99.8" font-size="5.6" fill="#222" text-anchor="start" font-family='"Liberation Sans", "DejaVu Sans", sans-serif'  stroke="#222" stroke-width="0.14">0</text>
<text x="251.8" y="62.2" font-size="6.6" fill="#222" text-anchor="middle" font-family='"Liberation Sans", "DejaVu Sans", sans-serif' font-style="italic" font-weight="bold" transform="rotate(-90 251.8 62.2)" >Im r<tspan dy="1.3" font-size="4.6">p</tspan></text>
<text x="136.3" y="136.2" font-size="11.2" fill="#111" text-anchor="start" font-family='"Liberation Serif", "DejaVu Serif", serif' font-style="italic"  stroke="#111" stroke-width="0.3">(e)</text>
<rect x="164.3" y="143.3" width="68.89999999999998" height="84.69999999999999" fill="#314aa4"/>
<clipPath id="clipe"><rect x="164.3" y="143.3" width="68.89999999999998" height="84.69999999999999"/></clipPath>
<g clip-path="url(#clipe)"><ellipse cx="164.3" cy="189" rx="9" ry="3.2" fill="#d8707a" opacity="0.8" filter="url(#b1)"/><ellipse cx="164.3" cy="189" rx="4.5" ry="1.8" fill="#f0a060" opacity="0.95" filter="url(#b05)"/></g>
<g clip-path="url(#clipe)" opacity="1.0"><path d="M164.30 172.00 C164.67 171.53 165.60 170.20 166.50 169.20 C167.40 168.20 168.68 167.03 169.70 166.00 C170.72 164.97 171.52 163.95 172.60 163.00 C173.68 162.05 174.63 161.08 176.20 160.30 C177.77 159.52 179.83 158.85 182.00 158.30 C184.17 157.75 187.03 157.45 189.20 157.00 C191.37 156.55 193.10 156.13 195.00 155.60 C196.90 155.07 198.60 154.50 200.60 153.80 C202.60 153.10 204.83 152.22 207.00 151.40 C209.17 150.58 211.43 149.70 213.60 148.90 C215.77 148.10 218.10 147.27 220.00 146.60 C221.90 145.93 223.42 145.47 225.00 144.90 C226.58 144.33 228.13 143.72 229.50 143.20 C230.87 142.68 232.58 142.03 233.20 141.80" fill="none" stroke="#e89058" stroke-width="3.3" opacity="0.7" filter="url(#b05)"/><path d="M164.30 172.00 C164.67 171.53 165.60 170.20 166.50 169.20 C167.40 168.20 168.68 167.03 169.70 166.00 C170.72 164.97 171.52 163.95 172.60 163.00 C173.68 162.05 174.63 161.08 176.20 160.30 C177.77 159.52 179.83 158.85 182.00 158.30 C184.17 157.75 187.03 157.45 189.20 157.00 C191.37 156.55 193.10 156.13 195.00 155.60 C196.90 155.07 198.60 154.50 200.60 153.80 C202.60 153.10 204.83 152.22 207.00 151.40 C209.17 150.58 211.43 149.70 213.60 148.90 C215.77 148.10 218.10 147.27 220.00 146.60 C221.90 145.93 223.42 145.47 225.00 144.90 C226.58 144.33 228.13 143.72 229.50 143.20 C230.87 142.68 232.58 142.03 233.20 141.80" fill="none" stroke="#f4d468" stroke-width="1.8" stroke-linecap="round"/></g>
<g clip-path="url(#clipe)" opacity="1.0"><path d="M166.00 173.30 C166.67 173.08 168.30 172.55 170.00 172.00 C171.70 171.45 174.20 170.63 176.20 170.00 C178.20 169.37 179.83 168.87 182.00 168.20 C184.17 167.53 187.03 166.67 189.20 166.00 C191.37 165.33 193.10 164.75 195.00 164.20 C196.90 163.65 198.60 163.13 200.60 162.70 C202.60 162.27 204.83 161.92 207.00 161.60 C209.17 161.28 210.60 161.10 213.60 160.80 C216.60 160.50 221.73 160.07 225.00 159.80 C228.27 159.53 231.83 159.30 233.20 159.20" fill="none" stroke="#d88a90" stroke-width="2.0" opacity="0.7" filter="url(#b05)"/><path d="M166.00 173.30 C166.67 173.08 168.30 172.55 170.00 172.00 C171.70 171.45 174.20 170.63 176.20 170.00 C178.20 169.37 179.83 168.87 182.00 168.20 C184.17 167.53 187.03 166.67 189.20 166.00 C191.37 165.33 193.10 164.75 195.00 164.20 C196.90 163.65 198.60 163.13 200.60 162.70 C202.60 162.27 204.83 161.92 207.00 161.60 C209.17 161.28 210.60 161.10 213.60 160.80 C216.60 160.50 221.73 160.07 225.00 159.80 C228.27 159.53 231.83 159.30 233.20 159.20" fill="none" stroke="#efc8aa" stroke-width="0.9" stroke-linecap="round"/></g>
<g clip-path="url(#clipe)" opacity="0.95"><path d="M176.00 173.30 C177.00 173.02 179.80 172.15 182.00 171.60 C184.20 171.05 186.10 170.67 189.20 170.00 C192.30 169.33 196.53 168.40 200.60 167.60 C204.67 166.80 209.53 165.82 213.60 165.20 C217.67 164.58 221.73 164.23 225.00 163.90 C228.27 163.57 231.83 163.32 233.20 163.20" fill="none" stroke="#a870a8" stroke-width="1.8" opacity="0.7" filter="url(#b05)"/><path d="M176.00 173.30 C177.00 173.02 179.80 172.15 182.00 171.60 C184.20 171.05 186.10 170.67 189.20 170.00 C192.30 169.33 196.53 168.40 200.60 167.60 C204.67 166.80 209.53 165.82 213.60 165.20 C217.67 164.58 221.73 164.23 225.00 163.90 C228.27 163.57 231.83 163.32 233.20 163.20" fill="none" stroke="#dcaec2" stroke-width="0.8" stroke-linecap="round"/></g>
<g clip-path="url(#clipe)" opacity="0.9"><path d="M188.00 173.30 C190.10 172.88 196.33 171.53 200.60 170.80 C204.87 170.07 208.17 169.57 213.60 168.90 C219.03 168.23 229.93 167.15 233.20 166.80" fill="none" stroke="#8a5aa0" stroke-width="1.5" opacity="0.7" filter="url(#b05)"/><path d="M188.00 173.30 C190.10 172.88 196.33 171.53 200.60 170.80 C204.87 170.07 208.17 169.57 213.60 168.90 C219.03 168.23 229.93 167.15 233.20 166.80" fill="none" stroke="#bc7aaa" stroke-width="0.7" stroke-linecap="round"/></g>
<g clip-path="url(#clipe)" opacity="0.8"><path d="M204.00 173.30 C206.67 172.98 215.13 171.95 220.00 171.40 C224.87 170.85 231.00 170.23 233.20 170.00" fill="none" stroke="#7a58a0" stroke-width="1.2" opacity="0.7" filter="url(#b05)"/><path d="M204.00 173.30 C206.67 172.98 215.13 171.95 220.00 171.40 C224.87 170.85 231.00 170.23 233.20 170.00" fill="none" stroke="#9a68aa" stroke-width="0.55" stroke-linecap="round"/></g>
<path d="M164.3 157 H233.2 M164.3 173.4 H233.2" stroke="#b9c6e2" stroke-width="0.5" stroke-dasharray="2.2 1.6" fill="none" opacity="0.7"/>
<g clip-path="url(#clipe)" opacity="1.0"><path d="M164.30 212.40 C165.67 212.37 170.38 212.43 172.50 212.20 C174.62 211.97 175.62 211.48 177.00 211.00 C178.38 210.52 179.63 209.93 180.80 209.30 C181.97 208.67 182.97 207.97 184.00 207.20 C185.03 206.43 185.67 205.83 187.00 204.70 C188.33 203.57 190.25 201.90 192.00 200.40 C193.75 198.90 195.67 197.17 197.50 195.70 C199.33 194.23 201.25 192.82 203.00 191.60 C204.75 190.38 206.33 189.40 208.00 188.40 C209.67 187.40 211.28 186.47 213.00 185.60 C214.72 184.73 216.30 184.02 218.30 183.20 C220.30 182.38 222.92 181.40 225.00 180.70 C227.08 180.00 229.43 179.40 230.80 179.00 C232.17 178.60 232.80 178.42 233.20 178.30" fill="none" stroke="#e8905a" stroke-width="2.8" opacity="0.7" filter="url(#b05)"/><path d="M164.30 212.40 C165.67 212.37 170.38 212.43 172.50 212.20 C174.62 211.97 175.62 211.48 177.00 211.00 C178.38 210.52 179.63 209.93 180.80 209.30 C181.97 208.67 182.97 207.97 184.00 207.20 C185.03 206.43 185.67 205.83 187.00 204.70 C188.33 203.57 190.25 201.90 192.00 200.40 C193.75 198.90 195.67 197.17 197.50 195.70 C199.33 194.23 201.25 192.82 203.00 191.60 C204.75 190.38 206.33 189.40 208.00 188.40 C209.67 187.40 211.28 186.47 213.00 185.60 C214.72 184.73 216.30 184.02 218.30 183.20 C220.30 182.38 222.92 181.40 225.00 180.70 C227.08 180.00 229.43 179.40 230.80 179.00 C232.17 178.60 232.80 178.42 233.20 178.30" fill="none" stroke="#f4d464" stroke-width="1.5" stroke-linecap="round"/></g>
<g clip-path="url(#clipe)"><path d="M164.3 213.2 C172 213.6 182 215.6 191 216.3 L191 216.9 C182 217.2 172 217.6 164.3 217.8 Z" fill="#d4788e" opacity="0.9" filter="url(#b05)"/></g>
<path d="M164.3 216.4 H233.2" stroke="#b9c6e2" stroke-width="0.5" stroke-dasharray="2.2 1.6" fill="none" opacity="0.7"/>
<g clip-path="url(#clipe)" opacity="1.0"><path d="M192.00 219.20 C193.33 218.98 197.00 218.18 200.00 217.90 C203.00 217.62 204.47 217.60 210.00 217.50 C215.53 217.40 229.33 217.33 233.20 217.30" fill="none" stroke="#c890a8" stroke-width="1.6" opacity="0.7" filter="url(#b05)"/><path d="M192.00 219.20 C193.33 218.98 197.00 218.18 200.00 217.90 C203.00 217.62 204.47 217.60 210.00 217.50 C215.53 217.40 229.33 217.33 233.20 217.30" fill="none" stroke="#e6c2c0" stroke-width="0.8" stroke-linecap="round"/></g>
<g clip-path="url(#clipe)" opacity="1.0"><path d="M177.30 228.50 C177.58 228.15 178.42 227.00 179.00 226.40 C179.58 225.80 180.05 225.53 180.80 224.90 C181.55 224.27 182.47 223.30 183.50 222.60 C184.53 221.90 185.75 221.23 187.00 220.70 C188.25 220.17 189.60 219.75 191.00 219.40 C192.40 219.05 193.90 218.83 195.40 218.60 C196.90 218.37 199.23 218.10 200.00 218.00" fill="none" stroke="#e0806a" stroke-width="2.4" opacity="0.7" filter="url(#b05)"/><path d="M177.30 228.50 C177.58 228.15 178.42 227.00 179.00 226.40 C179.58 225.80 180.05 225.53 180.80 224.90 C181.55 224.27 182.47 223.30 183.50 222.60 C184.53 221.90 185.75 221.23 187.00 220.70 C188.25 220.17 189.60 219.75 191.00 219.40 C192.40 219.05 193.90 218.83 195.40 218.60 C196.90 218.37 199.23 218.10 200.00 218.00" fill="none" stroke="#f2c862" stroke-width="1.2" stroke-linecap="round"/></g>
<path d="M188 143.3 V228" stroke="#0a0e2c" stroke-width="0.6" stroke-dasharray="3 1.9" fill="none"/>
<text x="205" y="180.2" font-size="3.8" fill="#6fc6a0" text-anchor="middle" font-family='"Liberation Sans", "DejaVu Sans", sans-serif'  stroke="#6fc6a0" stroke-width="0.14">HP<tspan dy="-1.3" font-size="2.6">3</tspan><tspan dy="1.3"> (II)</tspan></text>
<text x="220" y="210.2" font-size="3.8" fill="#8aa6c8" text-anchor="middle" font-family='"Liberation Sans", "DejaVu Sans", sans-serif'  stroke="#8aa6c8" stroke-width="0.14">HP<tspan dy="-1.3" font-size="2.6">3</tspan><tspan dy="1.3"> (I)</tspan></text>
<text x="212.5" y="197.3" font-size="3.8" fill="#8a9cc8" text-anchor="middle" font-family='"Liberation Sans", "DejaVu Sans", sans-serif'  stroke="#8a9cc8" stroke-width="0.14">SP<tspan dy="-1.3" font-size="2.6">3</tspan></text>
<text x="200.5" y="223.8" font-size="3.8" fill="#8a9cc8" text-anchor="middle" font-family='"Liberation Sans", "DejaVu Sans", sans-serif'  stroke="#8a9cc8" stroke-width="0.14">SP<tspan dy="-1.3" font-size="2.6">3</tspan></text>
<text x="198.8" y="140.5" font-size="5.2" fill="#222" text-anchor="middle" font-family='"Liberation Sans", "DejaVu Sans", sans-serif'  stroke="#222" stroke-width="0.14">Graphene/h-BN</text>
<text x="160.2" y="145.20000000000002" font-size="5.4" fill="#222" text-anchor="end" font-family='"Liberation Sans", "DejaVu Sans", sans-serif'  stroke="#222" stroke-width="0.14">1,800</text>
<text x="160.2" y="173.43333333333334" font-size="5.4" fill="#222" text-anchor="end" font-family='"Liberation Sans", "DejaVu Sans", sans-serif'  stroke="#222" stroke-width="0.14">1,400</text>
<text x="160.2" y="201.66666666666666" font-size="5.4" fill="#222" text-anchor="end" font-family='"Liberation Sans", "DejaVu Sans", sans-serif'  stroke="#222" stroke-width="0.14">1,000</text>
<text x="160.2" y="229.9" font-size="5.4" fill="#222" text-anchor="end" font-family='"Liberation Sans", "DejaVu Sans", sans-serif'  stroke="#222" stroke-width="0.14">600</text>
<text x="165.0" y="236.9" font-size="5.4" fill="#222" text-anchor="middle" font-family='"Liberation Sans", "DejaVu Sans", sans-serif'  stroke="#222" stroke-width="0.14">0</text>
<text x="178.5" y="236.9" font-size="5.4" fill="#222" text-anchor="middle" font-family='"Liberation Sans", "DejaVu Sans", sans-serif'  stroke="#222" stroke-width="0.14">2</text>
<text x="192.0" y="236.9" font-size="5.4" fill="#222" text-anchor="middle" font-family='"Liberation Sans", "DejaVu Sans", sans-serif'  stroke="#222" stroke-width="0.14">4</text>
<text x="205.5" y="236.9" font-size="5.4" fill="#222" text-anchor="middle" font-family='"Liberation Sans", "DejaVu Sans", sans-serif'  stroke="#222" stroke-width="0.14">6</text>
<text x="219.0" y="236.9" font-size="5.4" fill="#222" text-anchor="middle" font-family='"Liberation Sans", "DejaVu Sans", sans-serif'  stroke="#222" stroke-width="0.14">8</text>
<text x="232.5" y="236.9" font-size="5.4" fill="#222" text-anchor="middle" font-family='"Liberation Sans", "DejaVu Sans", sans-serif'  stroke="#222" stroke-width="0.14">10</text>
<path d="M164.3 143.30 h-1.5 M164.3 171.53 h-1.5 M164.3 199.77 h-1.5 M164.3 228.00 h-1.5 M165.00 228 v1.5 M178.50 228 v1.5 M192.00 228 v1.5 M205.50 228 v1.5 M219.00 228 v1.5 M232.50 228 v1.5" stroke="#333" stroke-width="0.4" fill="none"/>
<text x="198" y="244.8" font-size="5.0" fill="#222" text-anchor="middle" font-family='"Liberation Sans", "DejaVu Sans", sans-serif'  stroke="#222" stroke-width="0.14">q (10<tspan dy="-1.5" font-size="3.3">5</tspan><tspan dy="1.5"> cm</tspan><tspan dy="-1.5" font-size="3.3">−1</tspan><tspan dy="1.5">)</tspan></text>
<text x="142.5" y="186" font-size="5.0" fill="#222" text-anchor="middle" font-family='"Liberation Sans", "DejaVu Sans", sans-serif' transform="rotate(-90 142.5 186)"  stroke="#222" stroke-width="0.14">ω (cm<tspan dy="-1.5" font-size="3.3">−1</tspan><tspan dy="1.5">)</tspan></text>
<rect x="239.2" y="151" width="4.8" height="67.2" fill="url(#cbar)"/>
<text x="245" y="153.3" font-size="5.6" fill="#222" text-anchor="start" font-family='"Liberation Sans", "DejaVu Sans", sans-serif'  stroke="#222" stroke-width="0.14">1</text>
<text x="245" y="220.6" font-size="5.6" fill="#222" text-anchor="start" font-family='"Liberation Sans", "DejaVu Sans", sans-serif'  stroke="#222" stroke-width="0.14">0</text>
<text x="251.8" y="185.0" font-size="6.6" fill="#222" text-anchor="middle" font-family='"Liberation Sans", "DejaVu Sans", sans-serif' font-style="italic" font-weight="bold" transform="rotate(-90 251.8 185.0)" >Im r<tspan dy="1.3" font-size="4.6">p</tspan></text>
<text x="255.5" y="9.2" font-size="11.2" fill="#111" text-anchor="start" font-family='"Liberation Serif", "DejaVu Serif", serif' font-style="italic"  stroke="#111" stroke-width="0.3">(c)</text>
<clipPath id="cc1"><rect x="271.3" y="11.3" width="67.30000000000001" height="47.7"/></clipPath>
<rect x="271.3" y="11.3" width="67.30000000000001" height="47.7" fill="#140303"/>
<g clip-path="url(#cc1)"><rect x="271.3" y="11.3" width="67.30000000000001" height="17.6" fill="#481210"/><rect x="271.3" y="11.3" width="67.30000000000001" height="4" fill="#5c1614" opacity="0.5" filter="url(#b1)"/><ellipse cx="305.6" cy="27.5" rx="10" ry="4.5" fill="#a01a1a" opacity="0.6" filter="url(#b2)"/><ellipse cx="301.40000000000003" cy="27.0" rx="2.8" ry="1.5" fill="#f88878" opacity="0.9" filter="url(#b05)"/><ellipse cx="309.8" cy="27.0" rx="2.8" ry="1.5" fill="#f88878" opacity="0.9" filter="url(#b05)"/><rect x="304.90000000000003" y="19" width="1.4" height="9.4" fill="#0a0618" opacity="0.9" filter="url(#b05)"/><rect x="271.3" y="28.3" width="67.30000000000001" height="15.1" fill="#1c0505"/><path d="M303.0 28.4 L302.40000000000003 43.2 M308.20000000000005 28.4 L308.8 43.2" stroke="#b82420" stroke-width="1.0" opacity="0.55" filter="url(#b05)"/><rect x="271.3" y="43.4" width="67.30000000000001" height="16" fill="#160404"/><ellipse cx="305.6" cy="44.5" rx="6.5" ry="3.6" fill="#b81c1a" opacity="0.7" filter="url(#b1)"/><ellipse cx="302.5" cy="43.9" rx="1.4" ry="1.3" fill="#ffe0d4" filter="url(#b05)"/><ellipse cx="308.70000000000005" cy="43.9" rx="1.4" ry="1.3" fill="#ffe0d4" filter="url(#b05)"/><ellipse cx="305.6" cy="47.2" rx="1.6" ry="1.3" fill="#ff8a70" opacity="0.8" filter="url(#b05)"/></g>
<path d="M271.3 28.3 H338.6 M271.3 43.4 H338.6" stroke="#eee" stroke-width="0.6" stroke-dasharray="2 1.3" fill="none"/>
<text x="273.4" y="23.1" font-size="4.5" fill="#f4f4f4" text-anchor="start" font-family='"Liberation Sans", "DejaVu Sans", sans-serif'  stroke="#f4f4f4" stroke-width="0.2">Air</text>
<text x="273.4" y="37.6" font-size="4.5" fill="#f4f4f4" text-anchor="start" font-family='"Liberation Sans", "DejaVu Sans", sans-serif'  stroke="#f4f4f4" stroke-width="0.2">hBN</text>
<text x="273.4" y="50.5" font-size="4.5" fill="#f4f4f4" text-anchor="start" font-family='"Liberation Sans", "DejaVu Sans", sans-serif'  stroke="#f4f4f4" stroke-width="0.2">Si</text>
<text x="303" y="53.9" font-size="4.5" fill="#f4f4f4" text-anchor="middle" font-family='"Liberation Sans", "DejaVu Sans", sans-serif'  stroke="#f4f4f4" stroke-width="0.2">Au disc</text>
<text x="336.6" y="57.3" font-size="4.4" fill="#f4f4f4" text-anchor="end" font-family='"Liberation Sans", "DejaVu Sans", sans-serif'  stroke="#f4f4f4" stroke-width="0.2">761 cm<tspan dy="-1.4" font-size="2.9">−1</tspan></text>
<path d="M272.8 56.8 H285.8" stroke="#f4f4f4" stroke-width="1.0"/>
<path d="M332.3 29.2 V42.6" stroke="#f4f4f4" stroke-width="0.8" stroke-dasharray="1.2 0.7" fill="none"/>
<text x="328.6" y="37.4" font-size="4.0" fill="#f4f4f4" text-anchor="middle" font-family='"Liberation Sans", "DejaVu Sans", sans-serif' font-style="italic"  stroke="#f4f4f4" stroke-width="0.2">h</text>
<clipPath id="cc2"><rect x="352.3" y="11.2" width="68.5" height="48.0"/></clipPath>
<rect x="352.3" y="11.2" width="68.5" height="48.0" fill="#100303"/>
<g clip-path="url(#cc2)"><ellipse cx="386" cy="34" rx="36" ry="14" fill="#3c0a08" opacity="0.8" filter="url(#b3)"/></g>
<g clip-path="url(#cc2)" opacity="1.0"><path d="M355.70 44.30 L370.40 26.30 L386.50 43.80 L399.70 26.30 L416.60 44.30" fill="none" stroke="#8a1010" stroke-width="7.6" opacity="0.35" filter="url(#b1)" stroke-linejoin="miter"/><path d="M355.70 44.30 L370.40 26.30 L386.50 43.80 L399.70 26.30 L416.60 44.30" fill="none" stroke="#e08c74" stroke-width="3.8" stroke-linejoin="miter" filter="url(#b03)"/><path d="M355.70 44.30 L370.40 26.30 L386.50 43.80 L399.70 26.30 L416.60 44.30" fill="none" stroke="#74241c" stroke-width="2.5999999999999996" stroke-linejoin="miter" filter="url(#b03)"/><ellipse cx="386.5" cy="42.8" rx="1.5" ry="1.1" fill="#ffb488" opacity="0.85" filter="url(#b05)"/></g>
<path d="M387.2 42.5 V25" stroke="#efe0a8" stroke-width="0.5" opacity="0.95"/>
<path d="M366.2 19.9 H404.1 M366.2 18.6 V21.2 M404.1 18.6 V21.2" stroke="#f2f2f2" stroke-width="0.7" fill="none"/>
<text x="386.6" y="18.0" font-size="4.4" fill="#f2f2f2" text-anchor="middle" font-family='"Liberation Sans", "DejaVu Sans", sans-serif' font-style="italic"  stroke="#f2f2f2" stroke-width="0.14">D</text>
<path d="M367.7 26.0 H373.09999999999997" stroke="#f6f6f6" stroke-width="1.0"/>
<path d="M397.0 26.0 H402.4" stroke="#f6f6f6" stroke-width="1.0"/>
<path d="M353.3 45.1 H358.7" stroke="#f6f6f6" stroke-width="1.0"/>
<path d="M383.8 45.1 H389.2" stroke="#f6f6f6" stroke-width="1.0"/>
<path d="M413.6 45.1 H419.0" stroke="#f6f6f6" stroke-width="1.0"/>
<text x="356.4" y="50.6" font-size="3.8" fill="#58c070" text-anchor="middle" font-family='"Liberation Sans", "DejaVu Sans", sans-serif' font-style="italic"  stroke="#58c070" stroke-width="0.14">d</text>
<text x="415" y="50.6" font-size="3.8" fill="#58c070" text-anchor="middle" font-family='"Liberation Sans", "DejaVu Sans", sans-serif' font-style="italic"  stroke="#58c070" stroke-width="0.14">d</text>
<text x="386.2" y="50.9" font-size="3.8" fill="#f4f4f4" text-anchor="middle" font-family='"Liberation Sans", "DejaVu Sans", sans-serif' font-style="italic"  stroke="#f4f4f4" stroke-width="0.2">e</text>
<text x="371.2" y="24.6" font-size="3.4" fill="#f4f4f4" text-anchor="middle" font-family='"Liberation Sans", "DejaVu Sans", sans-serif' font-style="italic"  stroke="#f4f4f4" stroke-width="0.2">d</text>
<text x="400.6" y="24.6" font-size="3.4" fill="#f4f4f4" text-anchor="middle" font-family='"Liberation Sans", "DejaVu Sans", sans-serif' font-style="italic"  stroke="#f4f4f4" stroke-width="0.2">d</text>
<text x="417.0" y="57.0" font-size="4.4" fill="#f4f4f4" text-anchor="end" font-family='"Liberation Sans", "DejaVu Sans", sans-serif'  stroke="#f4f4f4" stroke-width="0.2">778.2 cm<tspan dy="-1.4" font-size="2.9">−1</tspan></text>
<rect x="352.85" y="11.75" width="67.4" height="46.9" fill="none" stroke="#28368e" stroke-width="1.1"/>
<clipPath id="cc3"><rect x="434.2" y="11.5" width="68.60000000000002" height="47.8"/></clipPath>
<rect x="434.2" y="11.5" width="68.60000000000002" height="47.8" fill="#0c0202"/>
<g clip-path="url(#cc3)"><ellipse cx="468" cy="28" rx="36" ry="10" fill="#2a0605" opacity="0.8" filter="url(#b3)"/></g>
<g clip-path="url(#cc3)" opacity="1.0"><path d="M430.00 35.20 L440.50 27.10 L468.30 43.40 L493.80 28.70 L506.00 36.60" fill="none" stroke="#8a1010" stroke-width="7.2" opacity="0.35" filter="url(#b1)" stroke-linejoin="miter"/><path d="M430.00 35.20 L440.50 27.10 L468.30 43.40 L493.80 28.70 L506.00 36.60" fill="none" stroke="#c83c28" stroke-width="3.6" stroke-linejoin="miter" filter="url(#b03)"/><path d="M430.00 35.20 L440.50 27.10 L468.30 43.40 L493.80 28.70 L506.00 36.60" fill="none" stroke="#5a0e0c" stroke-width="2.0" stroke-linejoin="miter" filter="url(#b03)"/><ellipse cx="468.3" cy="42.6" rx="1.5" ry="1.1" fill="#ffb488" opacity="0.85" filter="url(#b05)"/></g>
<text x="499.6" y="57.0" font-size="4.4" fill="#f4f4f4" text-anchor="end" font-family='"Liberation Sans", "DejaVu Sans", sans-serif'  stroke="#f4f4f4" stroke-width="0.2">795 cm<tspan dy="-1.4" font-size="2.9">−1</tspan></text>
<clipPath id="cc4"><rect x="270.5" y="67.2" width="68.69999999999999" height="48.8"/></clipPath>
<rect x="270.5" y="67.2" width="68.69999999999999" height="48.8" fill="#3e0a10"/>
<g clip-path="url(#cc4)"><rect x="270.5" y="67.2" width="68.69999999999999" height="17.3" fill="#6e141e"/><ellipse cx="296.9" cy="79" rx="7" ry="6" fill="#98182a" opacity="0.6" filter="url(#b2)"/><ellipse cx="310.9" cy="79" rx="7" ry="6" fill="#98182a" opacity="0.6" filter="url(#b2)"/><path d="M298.9 67.2 L303.09999999999997 80 L303.09999999999997 84 L304.7 84 L304.7 80 L308.9 67.2 Z" fill="#16040a" opacity="0.85" filter="url(#b1)"/><rect x="270.5" y="83.8" width="68.69999999999999" height="33" fill="#3a0a10"/><ellipse cx="303.9" cy="93" rx="16" ry="12" fill="#9c1a24" opacity="0.75" filter="url(#b2)"/><path d="M300.9 101 L281.9 116 L297.9 116 Z" fill="#b41c24" opacity="0.7" filter="url(#b2)"/><path d="M306.9 101 L325.9 116 L309.9 116 Z" fill="#b41c24" opacity="0.7" filter="url(#b2)"/><ellipse cx="301.2" cy="94" rx="2.2" ry="9" fill="#e43a2e" opacity="0.9" filter="url(#b1)"/><ellipse cx="306.59999999999997" cy="94" rx="2.2" ry="9" fill="#e43a2e" opacity="0.9" filter="url(#b1)"/><ellipse cx="300.79999999999995" cy="101.3" rx="1.6" ry="2.3" fill="#ffe0a0" filter="url(#b05)"/><ellipse cx="307.0" cy="101.3" rx="1.6" ry="2.3" fill="#ffe0a0" filter="url(#b05)"/><rect x="303.15" y="67.2" width="1.5" height="36" fill="#120206" opacity="0.95" filter="url(#b03)"/><path d="M270.5 83.8 H339.2" stroke="#2c050a" stroke-width="0.7" opacity="0.9"/><ellipse cx="303.9" cy="109" rx="4.5" ry="5.5" fill="#2a0508" opacity="0.85" filter="url(#b1)"/></g>
<path d="M276.3 78.0 V72.7 H281.6 M280.3 71.6 L282.0 72.7 L280.3 73.8 M275.2 76.7 L276.3 78.4 L277.4 76.7" stroke="#f4f4f4" stroke-width="0.65" fill="none"/>
<text x="285.8" y="74.0" font-size="4.0" fill="#f4f4f4" text-anchor="middle" font-family='"Liberation Sans", "DejaVu Sans", sans-serif' font-style="italic"  stroke="#f4f4f4" stroke-width="0.2">E</text>
<text x="277.6" y="82.4" font-size="3.6" fill="#f4f4f4" text-anchor="middle" font-family='"Liberation Sans", "DejaVu Sans", sans-serif' font-style="italic"  stroke="#f4f4f4" stroke-width="0.2">k</text>
<path d="M273.8 106.6 V112.3 H279.4 M278.1 111.2 L279.8 112.3 L278.1 113.4 M272.7 107.9 L273.8 106.2 L274.9 107.9" stroke="#f4f4f4" stroke-width="0.65" fill="none"/>
<text x="276.4" y="106.6" font-size="3.6" fill="#f4f4f4" text-anchor="middle" font-family='"Liberation Sans", "DejaVu Sans", sans-serif' font-style="italic"  stroke="#f4f4f4" stroke-width="0.2">z</text>
<text x="283.4" y="114.0" font-size="3.6" fill="#f4f4f4" text-anchor="middle" font-family='"Liberation Sans", "DejaVu Sans", sans-serif' font-style="italic"  stroke="#f4f4f4" stroke-width="0.2">x</text>
<text x="335.6" y="112.6" font-size="4.4" fill="#f4f4f4" text-anchor="end" font-family='"Liberation Sans", "DejaVu Sans", sans-serif'  stroke="#f4f4f4" stroke-width="0.2">1,613.8 cm<tspan dy="-1.4" font-size="2.9">−1</tspan></text>
<rect x="271.15" y="67.85000000000001" width="67.39999999999999" height="47.5" fill="none" stroke="#c8203a" stroke-width="1.3"/>
<clipPath id="cc5"><rect x="352.5" y="68.0" width="68.19999999999999" height="47.400000000000006"/></clipPath>
<rect x="352.5" y="68.0" width="68.19999999999999" height="47.400000000000006" fill="#0d0202"/>
<g clip-path="url(#cc5)"><ellipse cx="386" cy="92" rx="36" ry="9" fill="#2c0606" opacity="0.8" filter="url(#b3)"/><path d="M359 83.6 H379 M393 83.6 H413 M353 98.4 H366 M406 98.4 H420" stroke="#a01818" stroke-width="0.9" opacity="0.7" filter="url(#b05)"/></g>
<g clip-path="url(#cc5)" opacity="1.0"><path d="M349.00 100.20 L369.30 83.80 L385.80 98.60 L402.80 83.80 L423.00 100.20" fill="none" stroke="#8a1010" stroke-width="7.2" opacity="0.35" filter="url(#b1)" stroke-linejoin="miter"/><path d="M349.00 100.20 L369.30 83.80 L385.80 98.60 L402.80 83.80 L423.00 100.20" fill="none" stroke="#c42c2a" stroke-width="3.6" stroke-linejoin="miter" filter="url(#b03)"/><path d="M349.00 100.20 L369.30 83.80 L385.80 98.60 L402.80 83.80 L423.00 100.20" fill="none" stroke="#5a100e" stroke-width="2.0" stroke-linejoin="miter" filter="url(#b03)"/></g>
<text x="418" y="112.0" font-size="4.4" fill="#f4f4f4" text-anchor="end" font-family='"Liberation Sans", "DejaVu Sans", sans-serif'  stroke="#f4f4f4" stroke-width="0.2">1,527 cm<tspan dy="-1.4" font-size="2.9">−1</tspan></text>
<rect x="353.05" y="68.55" width="67.1" height="46.300000000000004" fill="none" stroke="#3c8c3c" stroke-width="1.1"/>
<clipPath id="cc6"><rect x="433.7" y="67.5" width="69.60000000000002" height="48.5"/></clipPath>
<rect x="433.7" y="67.5" width="69.60000000000002" height="48.5" fill="#0b0102"/>
<g clip-path="url(#cc6)"><ellipse cx="468" cy="90" rx="36" ry="10" fill="#2a0507" opacity="0.8" filter="url(#b3)"/></g>
<g clip-path="url(#cc6)" opacity="1.0"><path d="M429.00 88.60 L439.40 83.30 L467.50 100.70 L496.30 82.70 L507.00 89.60" fill="none" stroke="#8a1010" stroke-width="6.6" opacity="0.35" filter="url(#b1)" stroke-linejoin="miter"/><path d="M429.00 88.60 L439.40 83.30 L467.50 100.70 L496.30 82.70 L507.00 89.60" fill="none" stroke="#cc3636" stroke-width="3.3" stroke-linejoin="miter" filter="url(#b03)"/><path d="M429.00 88.60 L439.40 83.30 L467.50 100.70 L496.30 82.70 L507.00 89.60" fill="none" stroke="#4a0a0c" stroke-width="1.6999999999999997" stroke-linejoin="miter" filter="url(#b03)"/><ellipse cx="467.5" cy="99.8" rx="1.5" ry="1.1" fill="#ffb488" opacity="0.85" filter="url(#b05)"/></g>
<text x="499.4" y="112.4" font-size="4.4" fill="#f4f4f4" text-anchor="end" font-family='"Liberation Sans", "DejaVu Sans", sans-serif'  stroke="#f4f4f4" stroke-width="0.2">1,459.6 cm<tspan dy="-1.4" font-size="2.9">−1</tspan></text>
<rect x="434.34999999999997" y="68.15" width="68.30000000000003" height="47.2" fill="none" stroke="#c8203a" stroke-width="1.3"/>
<text x="0.9" y="136.2" font-size="11.2" fill="#111" text-anchor="start" font-family='"Liberation Serif", "DejaVu Serif", serif' font-style="italic"  stroke="#111" stroke-width="0.3">(d)</text>
<polygon points="21.40,233.60 127.80,199.20 127.80,214.60 24.30,239.90" fill="#8e8a2c"/>
<polygon points="66.60,218.90 127.80,199.20 127.80,209.60 67.40,223.10" fill="#cc2a20"/>
<polygon points="11.60,176.00 21.40,233.60 24.30,239.90 13.40,182.00" fill="#a6a244"/>
<polygon points="11.60,176.00 40.50,171.20 66.60,218.90 21.40,233.60" fill="#ebe07c"/>
<polygon points="40.50,171.20 88.00,162.80 127.80,199.20 66.60,218.90" fill="#e4382a"/>
<clipPath id="clipdY"><polygon points="11.60,176.00 40.50,171.20 60.86,208.41 19.24,220.93"/></clipPath>
<clipPath id="clipdR"><polygon points="40.50,171.20 88.00,162.80 119.84,191.92 60.86,208.41"/></clipPath>
<g clip-path="url(#clipdY)"><rect x="0" y="150" width="90" height="100" fill="#b8b060" opacity="0.15"/><g stroke="#34341e" stroke-width="0.6" opacity="0.7"><path d="M-33.0 160 l26 80"/><path d="M-29.7 160 l26 80"/><path d="M-26.4 160 l26 80"/><path d="M-23.1 160 l26 80"/><path d="M-19.8 160 l26 80"/><path d="M-16.5 160 l26 80"/><path d="M-13.2 160 l26 80"/><path d="M-9.9 160 l26 80"/><path d="M-6.6 160 l26 80"/><path d="M-3.3 160 l26 80"/><path d="M0.0 160 l26 80"/><path d="M3.3 160 l26 80"/><path d="M6.6 160 l26 80"/><path d="M9.9 160 l26 80"/><path d="M13.2 160 l26 80"/><path d="M16.5 160 l26 80"/><path d="M19.8 160 l26 80"/><path d="M23.1 160 l26 80"/><path d="M26.4 160 l26 80"/><path d="M29.7 160 l26 80"/><path d="M33.0 160 l26 80"/><path d="M36.3 160 l26 80"/><path d="M39.6 160 l26 80"/><path d="M42.9 160 l26 80"/><path d="M46.2 160 l26 80"/><path d="M49.5 160 l26 80"/><path d="M52.8 160 l26 80"/><path d="M56.1 160 l26 80"/><path d="M59.4 160 l26 80"/><path d="M62.7 160 l26 80"/><path d="M66.0 160 l26 80"/><path d="M69.3 160 l26 80"/><path d="M72.6 160 l26 80"/><path d="M75.9 160 l26 80"/><path d="M79.2 160 l26 80"/><path d="M82.5 160 l26 80"/><path d="M85.8 160 l26 80"/><path d="M89.1 160 l26 80"/><path d="M92.4 160 l26 80"/><path d="M95.7 160 l26 80"/><path d="M99.0 160 l26 80"/><path d="M102.3 160 l26 80"/><path d="M105.6 160 l26 80"/><path d="M108.9 160 l26 80"/><path d="M112.2 160 l26 80"/><path d="M115.5 160 l26 80"/><path d="M118.8 160 l26 80"/><path d="M122.1 160 l26 80"/><path d="M125.4 160 l26 80"/><path d="M128.7 160 l26 80"/><path d="M132.0 160 l26 80"/><path d="M135.3 160 l26 80"/><path d="M138.6 160 l26 80"/><path d="M141.9 160 l26 80"/><path d="M145.2 160 l26 80"/><path d="M148.5 160 l26 80"/><path d="M151.8 160 l26 80"/><path d="M155.1 160 l26 80"/><path d="M158.4 160 l26 80"/><path d="M161.7 160 l26 80"/><path d="M165.0 160 l26 80"/><path d="M168.3 160 l26 80"/><path d="M171.6 160 l26 80"/><path d="M174.9 160 l26 80"/><path d="M178.2 160 l26 80"/><path d="M181.5 160 l26 80"/><path d="M184.8 160 l26 80"/><path d="M188.1 160 l26 80"/><path d="M191.4 160 l26 80"/><path d="M194.7 160 l26 80"/><path d="M0 172.0 L90 142.0"/><path d="M0 175.0 L90 145.0"/><path d="M0 178.0 L90 148.0"/><path d="M0 181.0 L90 151.0"/><path d="M0 184.0 L90 154.0"/><path d="M0 187.0 L90 157.0"/><path d="M0 190.0 L90 160.0"/><path d="M0 193.0 L90 163.0"/><path d="M0 196.0 L90 166.0"/><path d="M0 199.0 L90 169.0"/><path d="M0 202.0 L90 172.0"/><path d="M0 205.0 L90 175.0"/><path d="M0 208.0 L90 178.0"/><path d="M0 211.0 L90 181.0"/><path d="M0 214.0 L90 184.0"/><path d="M0 217.0 L90 187.0"/><path d="M0 220.0 L90 190.0"/><path d="M0 223.0 L90 193.0"/><path d="M0 226.0 L90 196.0"/><path d="M0 229.0 L90 199.0"/><path d="M0 232.0 L90 202.0"/><path d="M0 235.0 L90 205.0"/><path d="M0 238.0 L90 208.0"/><path d="M0 241.0 L90 211.0"/><path d="M0 244.0 L90 214.0"/><path d="M0 247.0 L90 217.0"/><path d="M0 250.0 L90 220.0"/><path d="M0 253.0 L90 223.0"/><path d="M0 256.0 L90 226.0"/><path d="M0 259.0 L90 229.0"/><path d="M0 262.0 L90 232.0"/><path d="M0 265.0 L90 235.0"/><path d="M0 268.0 L90 238.0"/><path d="M0 271.0 L90 241.0"/><path d="M0 274.0 L90 244.0"/><path d="M0 277.0 L90 247.0"/><path d="M0 280.0 L90 250.0"/><path d="M0 283.0 L90 253.0"/><path d="M0 286.0 L90 256.0"/><path d="M0 289.0 L90 259.0"/><path d="M0 292.0 L90 262.0"/><path d="M0 295.0 L90 265.0"/><path d="M0 298.0 L90 268.0"/><path d="M0 301.0 L90 271.0"/><path d="M0 304.0 L90 274.0"/><path d="M0 307.0 L90 277.0"/><path d="M0 310.0 L90 280.0"/><path d="M0 313.0 L90 283.0"/><path d="M0 316.0 L90 286.0"/><path d="M0 319.0 L90 289.0"/></g></g>
<g clip-path="url(#clipdR)"><rect x="30" y="150" width="100" height="70" fill="#8a9a80" opacity="0.38"/><g stroke="#5a8a90" stroke-width="0.7" opacity="0.55"><path d="M20.0 150 l34 75"/><path d="M23.0 150 l34 75"/><path d="M26.0 150 l34 75"/><path d="M29.0 150 l34 75"/><path d="M32.0 150 l34 75"/><path d="M35.0 150 l34 75"/><path d="M38.0 150 l34 75"/><path d="M41.0 150 l34 75"/><path d="M44.0 150 l34 75"/><path d="M47.0 150 l34 75"/><path d="M50.0 150 l34 75"/><path d="M53.0 150 l34 75"/><path d="M56.0 150 l34 75"/><path d="M59.0 150 l34 75"/><path d="M62.0 150 l34 75"/><path d="M65.0 150 l34 75"/><path d="M68.0 150 l34 75"/><path d="M71.0 150 l34 75"/><path d="M74.0 150 l34 75"/><path d="M77.0 150 l34 75"/><path d="M80.0 150 l34 75"/><path d="M83.0 150 l34 75"/><path d="M86.0 150 l34 75"/><path d="M89.0 150 l34 75"/><path d="M92.0 150 l34 75"/><path d="M95.0 150 l34 75"/><path d="M98.0 150 l34 75"/><path d="M101.0 150 l34 75"/><path d="M104.0 150 l34 75"/><path d="M107.0 150 l34 75"/><path d="M110.0 150 l34 75"/><path d="M113.0 150 l34 75"/><path d="M116.0 150 l34 75"/><path d="M119.0 150 l34 75"/><path d="M122.0 150 l34 75"/><path d="M125.0 150 l34 75"/><path d="M128.0 150 l34 75"/><path d="M131.0 150 l34 75"/><path d="M134.0 150 l34 75"/><path d="M137.0 150 l34 75"/><path d="M140.0 150 l34 75"/><path d="M143.0 150 l34 75"/><path d="M146.0 150 l34 75"/><path d="M149.0 150 l34 75"/><path d="M152.0 150 l34 75"/><path d="M155.0 150 l34 75"/><path d="M158.0 150 l34 75"/><path d="M161.0 150 l34 75"/><path d="M164.0 150 l34 75"/><path d="M167.0 150 l34 75"/><path d="M170.0 150 l34 75"/><path d="M173.0 150 l34 75"/><path d="M176.0 150 l34 75"/><path d="M179.0 150 l34 75"/><path d="M182.0 150 l34 75"/><path d="M185.0 150 l34 75"/><path d="M188.0 150 l34 75"/><path d="M191.0 150 l34 75"/><path d="M194.0 150 l34 75"/><path d="M197.0 150 l34 75"/><path d="M200.0 150 l34 75"/><path d="M203.0 150 l34 75"/><path d="M206.0 150 l34 75"/><path d="M209.0 150 l34 75"/><path d="M212.0 150 l34 75"/><path d="M215.0 150 l34 75"/><path d="M218.0 150 l34 75"/><path d="M221.0 150 l34 75"/><path d="M224.0 150 l34 75"/><path d="M227.0 150 l34 75"/><path d="M30 180.0 L130 146.0"/><path d="M30 182.9 L130 148.9"/><path d="M30 185.8 L130 151.8"/><path d="M30 188.7 L130 154.7"/><path d="M30 191.6 L130 157.6"/><path d="M30 194.5 L130 160.5"/><path d="M30 197.4 L130 163.4"/><path d="M30 200.3 L130 166.3"/><path d="M30 203.2 L130 169.2"/><path d="M30 206.1 L130 172.1"/><path d="M30 209.0 L130 175.0"/><path d="M30 211.9 L130 177.9"/><path d="M30 214.8 L130 180.8"/><path d="M30 217.7 L130 183.7"/><path d="M30 220.6 L130 186.6"/><path d="M30 223.5 L130 189.5"/><path d="M30 226.4 L130 192.4"/><path d="M30 229.3 L130 195.3"/><path d="M30 232.2 L130 198.2"/><path d="M30 235.1 L130 201.1"/><path d="M30 238.0 L130 204.0"/><path d="M30 240.9 L130 206.9"/><path d="M30 243.8 L130 209.8"/><path d="M30 246.7 L130 212.7"/><path d="M30 249.6 L130 215.6"/><path d="M30 252.5 L130 218.5"/><path d="M30 255.4 L130 221.4"/><path d="M30 258.3 L130 224.3"/><path d="M30 261.2 L130 227.2"/><path d="M30 264.1 L130 230.1"/><path d="M30 267.0 L130 233.0"/><path d="M30 269.9 L130 235.9"/><path d="M30 272.8 L130 238.8"/><path d="M30 275.7 L130 241.7"/><path d="M30 278.6 L130 244.6"/><path d="M30 281.5 L130 247.5"/><path d="M30 284.4 L130 250.4"/><path d="M30 287.3 L130 253.3"/><path d="M30 290.2 L130 256.2"/><path d="M30 293.1 L130 259.1"/><path d="M30 296.0 L130 262.0"/><path d="M30 298.9 L130 264.9"/><path d="M30 301.8 L130 267.8"/><path d="M30 304.7 L130 270.7"/><path d="M30 307.6 L130 273.6"/></g><ellipse cx="73.2" cy="178.8" rx="3.6" ry="1.9" fill="none" stroke="#dfe8a0" stroke-width="1.0" opacity="0.46" transform="rotate(8 73.2 178.8)"/><ellipse cx="73.2" cy="178.8" rx="7.2" ry="3.8" fill="none" stroke="#c82a1c" stroke-width="1.0" opacity="0.42" transform="rotate(8 73.2 178.8)"/><ellipse cx="73.2" cy="178.8" rx="10.8" ry="5.7" fill="none" stroke="#dfe8a0" stroke-width="1.0" opacity="0.38" transform="rotate(8 73.2 178.8)"/><ellipse cx="73.2" cy="178.8" rx="14.4" ry="7.6" fill="none" stroke="#c82a1c" stroke-width="1.0" opacity="0.34" transform="rotate(8 73.2 178.8)"/><ellipse cx="73.2" cy="178.8" rx="18.0" ry="9.5" fill="none" stroke="#dfe8a0" stroke-width="1.0" opacity="0.30" transform="rotate(8 73.2 178.8)"/><ellipse cx="73.2" cy="178.8" rx="21.6" ry="11.4" fill="none" stroke="#c82a1c" stroke-width="1.0" opacity="0.26" transform="rotate(8 73.2 178.8)"/><ellipse cx="73.2" cy="178.8" rx="25.2" ry="13.3" fill="none" stroke="#dfe8a0" stroke-width="1.0" opacity="0.22" transform="rotate(8 73.2 178.8)"/><ellipse cx="73.2" cy="178.8" rx="28.8" ry="15.2" fill="none" stroke="#c82a1c" stroke-width="1.0" opacity="0.18" transform="rotate(8 73.2 178.8)"/><ellipse cx="73.2" cy="178.8" rx="32.4" ry="17.1" fill="none" stroke="#dfe8a0" stroke-width="1.0" opacity="0.14" transform="rotate(8 73.2 178.8)"/><ellipse cx="73.2" cy="178.8" rx="36.0" ry="19.0" fill="none" stroke="#c82a1c" stroke-width="1.0" opacity="0.10" transform="rotate(8 73.2 178.8)"/><ellipse cx="73.2" cy="178.8" rx="39.6" ry="20.9" fill="none" stroke="#dfe8a0" stroke-width="1.0" opacity="0.08" transform="rotate(8 73.2 178.8)"/><ellipse cx="73.2" cy="178.8" rx="43.2" ry="22.8" fill="none" stroke="#c82a1c" stroke-width="1.0" opacity="0.08" transform="rotate(8 73.2 178.8)"/></g>
<polygon points="62.00,162.00 107.50,153.60 117.80,157.40 72.50,166.40" fill="#cdcdcd"/>
<polygon points="72.50,166.40 117.80,157.40 117.80,159.80 72.50,169.20" fill="#9c9c9c"/>
<polygon points="62.00,162.00 72.50,166.40 72.50,169.20 62.00,164.60" fill="#aaaaaa"/>
<polygon points="67.80,165.60 72.70,167.60 72.70,171.60 68.20,170.00" fill="#8e8e8e"/>
<polygon points="11.00,141.00 13.20,161.80 42.50,170.30 60.00,176.60 72.00,181.20 76.50,181.40 77.50,178.60 67.50,169.60 50.00,160.00" fill="#6cc47a" opacity="0.88"/>
<polygon points="11.60,147.50 12.60,156.00 60.00,174.40 75.00,180.60 66.00,171.60" fill="#3a9a50" opacity="0.55"/>
<polygon points="45.00,166.60 72.00,180.80 76.00,180.20 58.00,165.60" fill="#8ad890" opacity="0.5"/>
<path d="M12 152 L75.5 180" stroke="#2a7a3a" stroke-width="0.5" opacity="0.8"/>
<circle cx="37.8" cy="160.8" r="1.0" fill="#0c2a12"/><circle cx="24.4" cy="162.9" r="1.0" fill="#0c2a12"/>
<path d="M24.4 162.9 L33 160.5 M37.8 160.8 L45 165.4" stroke="#1a4a22" stroke-width="0.4"/>
<text x="44" y="223.7" font-size="5.3" fill="#7d7a3c" text-anchor="middle" font-family='"Liberation Sans", "DejaVu Sans", sans-serif' >SiO<tspan dy="1.1" font-size="3.6">2</tspan></text>
<text x="93.2" y="204.2" font-size="5.2" fill="#f2a090" text-anchor="middle" font-family='"Liberation Sans", "DejaVu Sans", sans-serif' >h-BN</text>
<path d="M122.5 170.6 L128.6 175.6 L119.4 179.2" stroke="#444" stroke-width="0.45" fill="none"/>
<path d="M120.6 168.6 L124.2 169.8 L122.2 172.6 Z M117.2 179.9 L120.4 177.0 L121.2 180.2 Z" fill="#222"/>
<text x="119.4" y="167.4" font-size="3.2" fill="#333" text-anchor="middle" font-family='"Liberation Sans", "DejaVu Sans", sans-serif' font-style="italic"  stroke="#333" stroke-width="0.14">x</text>
<text x="115.2" y="181.2" font-size="3.2" fill="#333" text-anchor="middle" font-family='"Liberation Sans", "DejaVu Sans", sans-serif' font-style="italic"  stroke="#333" stroke-width="0.14">z</text>
<text x="255.6" y="136.2" font-size="11.2" fill="#111" text-anchor="start" font-family='"Liberation Serif", "DejaVu Serif", serif' font-style="italic"  stroke="#111" stroke-width="0.3">(f)</text>
<rect x="277" y="143" width="94.30000000000001" height="87.80000000000001" fill="#080202"/>
<clipPath id="clipf"><rect x="277" y="143" width="94.30000000000001" height="87.80000000000001"/></clipPath>
<g clip-path="url(#clipf)">
<path d="M277 158.8 H371.3" stroke="#6a1410" stroke-width="0.6"/>
<path d="M277 213 H371.3" stroke="#4a0e0a" stroke-width="0.7"/>
<path d="M277.00 150.00 C280.83 150.60 292.00 152.40 300.00 153.60 C308.00 154.80 317.25 156.03 325.00 157.20 C332.75 158.37 338.78 159.13 346.50 160.60 C354.22 162.07 367.17 165.10 371.30 166.00" fill="none" stroke="#3c0c08" stroke-width="0.8" opacity="0.5" filter="url(#b05)"/>
<path d="M277.00 161.20 C277.43 161.33 278.10 161.48 279.60 162.00 C281.10 162.52 283.62 163.52 286.00 164.30 C288.38 165.08 290.58 165.62 293.90 166.70 C297.22 167.78 301.92 169.52 305.90 170.80 C309.88 172.08 313.82 173.28 317.80 174.40 C321.78 175.52 325.77 176.50 329.80 177.50 C333.83 178.50 338.02 179.40 342.00 180.40 C345.98 181.40 348.82 182.10 353.70 183.50 C358.58 184.90 368.37 187.92 371.30 188.80" fill="none" stroke="#8a1c12" stroke-width="2.4" opacity="0.75" filter="url(#b05)"/>
<path d="M277.00 161.20 C277.43 161.33 278.10 161.48 279.60 162.00 C281.10 162.52 283.62 163.52 286.00 164.30 C288.38 165.08 290.58 165.62 293.90 166.70 C297.22 167.78 301.92 169.52 305.90 170.80 C309.88 172.08 313.82 173.28 317.80 174.40 C321.78 175.52 325.77 176.50 329.80 177.50 C333.83 178.50 338.02 179.40 342.00 180.40 C345.98 181.40 348.82 182.10 353.70 183.50 C358.58 184.90 368.37 187.92 371.30 188.80" fill="none" stroke="#b02c1a" stroke-width="0.6" opacity="0.6" filter="url(#b03)"/>
<path d="M277.00 163.00 C277.50 163.47 278.77 164.78 280.00 165.80 C281.23 166.82 282.90 167.83 284.40 169.10 C285.90 170.37 287.42 172.00 289.00 173.40 C290.58 174.80 292.07 176.07 293.90 177.50 C295.73 178.93 298.00 180.62 300.00 182.00 C302.00 183.38 303.90 184.53 305.90 185.80 C307.90 187.07 310.02 188.40 312.00 189.60 C313.98 190.80 315.80 191.97 317.80 193.00 C319.80 194.03 322.00 195.03 324.00 195.80 C326.00 196.57 327.13 196.93 329.80 197.60 C332.47 198.27 336.63 199.13 340.00 199.80 C343.37 200.47 346.67 201.05 350.00 201.60 C353.33 202.15 356.45 202.62 360.00 203.10 C363.55 203.58 369.42 204.27 371.30 204.50" fill="none" stroke="#a01c10" stroke-width="4.6" opacity="0.6" filter="url(#b1)"/>
<path d="M277.00 163.00 C277.50 163.47 278.77 164.78 280.00 165.80 C281.23 166.82 282.90 167.83 284.40 169.10 C285.90 170.37 287.42 172.00 289.00 173.40 C290.58 174.80 292.07 176.07 293.90 177.50 C295.73 178.93 298.00 180.62 300.00 182.00 C302.00 183.38 303.90 184.53 305.90 185.80 C307.90 187.07 310.02 188.40 312.00 189.60 C313.98 190.80 315.80 191.97 317.80 193.00 C319.80 194.03 322.00 195.03 324.00 195.80 C326.00 196.57 327.13 196.93 329.80 197.60 C332.47 198.27 336.63 199.13 340.00 199.80 C343.37 200.47 346.67 201.05 350.00 201.60 C353.33 202.15 356.45 202.62 360.00 203.10 C363.55 203.58 369.42 204.27 371.30 204.50" fill="none" stroke="#f0482c" stroke-width="2.2" opacity="0.95" filter="url(#b05)"/>
<path d="M277.00 163.00 C277.50 163.47 278.77 164.78 280.00 165.80 C281.23 166.82 282.90 167.83 284.40 169.10 C285.90 170.37 287.42 172.00 289.00 173.40 C290.58 174.80 292.07 176.07 293.90 177.50 C295.73 178.93 298.00 180.62 300.00 182.00 C302.00 183.38 303.90 184.53 305.90 185.80 C307.90 187.07 310.02 188.40 312.00 189.60 C313.98 190.80 315.80 191.97 317.80 193.00 C319.80 194.03 322.00 195.03 324.00 195.80 C326.00 196.57 327.13 196.93 329.80 197.60 C332.47 198.27 336.63 199.13 340.00 199.80 C343.37 200.47 346.67 201.05 350.00 201.60 C353.33 202.15 356.45 202.62 360.00 203.10 C363.55 203.58 369.42 204.27 371.30 204.50" fill="none" stroke="#ffd8c0" stroke-width="0.9" filter="url(#b03)"/>
<path d="M341.2 143 L328 230.8" stroke="#b8b060" stroke-width="0.9"/>
<path d="M371.7 143 L358.75 230.8" stroke="#c8c8c8" stroke-width="0.6" stroke-dasharray="0.8 0.9" opacity="0.85"/>
</g>
<circle cx="332.7" cy="197.5" r="2.7" fill="#2aa8e0"/>
<text x="289.2" y="169.8" font-size="7.0" fill="#f8f8f8" text-anchor="start" font-family='"Liberation Sans", "DejaVu Sans", sans-serif' transform="rotate(37 289.2 169.8)" stroke="#2a100c" stroke-width="0.8" paint-order="stroke">Phonon</text>
<text x="282.4" y="176.0" font-size="7.3" fill="#f8f8f8" text-anchor="start" font-family='"Liberation Sans", "DejaVu Sans", sans-serif' transform="rotate(37 282.4 176.0)" stroke="#2a100c" stroke-width="0.8" paint-order="stroke">polariton</text>
<text x="331.0" y="176.6" font-size="6.7" fill="#e6dc5a" text-anchor="middle" font-family='"Liberation Sans", "DejaVu Sans", sans-serif' transform="rotate(-82 331.0 176.6)"  stroke="#e6dc5a" stroke-width="0.14">Plasmon</text>
<text x="343.6" y="177.2" font-size="6.7" fill="#e6dc5a" text-anchor="middle" font-family='"Liberation Sans", "DejaVu Sans", sans-serif' transform="rotate(-82 343.6 177.2)"  stroke="#e6dc5a" stroke-width="0.14">polariton</text>
<text x="366.0" y="155.0" font-size="6.6" fill="#c8202a" text-anchor="middle" font-family='"Liberation Sans", "DejaVu Sans", sans-serif'  stroke="#c8202a" stroke-width="0.14">LO</text>
<text x="365.8" y="221.2" font-size="6.6" fill="#c8202a" text-anchor="middle" font-family='"Liberation Sans", "DejaVu Sans", sans-serif'  stroke="#c8202a" stroke-width="0.14">TO</text>
<text x="355.0" y="229.8" font-size="6.2" fill="#f0f0f0" text-anchor="start" font-family='"Liberation Sans", "DejaVu Sans", sans-serif' transform="rotate(-82 355.0 229.8)"  stroke="#f0f0f0" stroke-width="0.14">ω = v<tspan dy="1" font-size="3.2">F</tspan><tspan dy="-1">q</tspan></text>
<path d="M278.00 230.8 v-2.0 M278.00 143 v2.0 M280.88 230.8 v-1.3 M280.88 143 v1.3 M283.77 230.8 v-1.3 M283.77 143 v1.3 M286.65 230.8 v-1.3 M286.65 143 v1.3 M289.54 230.8 v-1.3 M289.54 143 v1.3 M292.43 230.8 v-1.3 M292.43 143 v1.3 M295.31 230.8 v-1.3 M295.31 143 v1.3 M298.19 230.8 v-1.3 M298.19 143 v1.3 M301.08 230.8 v-1.3 M301.08 143 v1.3 M303.96 230.8 v-1.3 M303.96 143 v1.3 M306.85 230.8 v-2.0 M306.85 143 v2.0 M309.74 230.8 v-1.3 M309.74 143 v1.3 M312.62 230.8 v-1.3 M312.62 143 v1.3 M315.50 230.8 v-1.3 M315.50 143 v1.3 M318.39 230.8 v-1.3 M318.39 143 v1.3 M321.27 230.8 v-1.3 M321.27 143 v1.3 M324.16 230.8 v-1.3 M324.16 143 v1.3 M327.05 230.8 v-1.3 M327.05 143 v1.3 M329.93 230.8 v-1.3 M329.93 143 v1.3 M332.81 230.8 v-1.3 M332.81 143 v1.3 M335.70 230.8 v-2.0 M335.70 143 v2.0 M338.58 230.8 v-1.3 M338.58 143 v1.3 M341.47 230.8 v-1.3 M341.47 143 v1.3 M344.36 230.8 v-1.3 M344.36 143 v1.3 M347.24 230.8 v-1.3 M347.24 143 v1.3 M350.12 230.8 v-1.3 M350.12 143 v1.3 M353.01 230.8 v-1.3 M353.01 143 v1.3 M355.89 230.8 v-1.3 M355.89 143 v1.3 M358.78 230.8 v-1.3 M358.78 143 v1.3 M361.66 230.8 v-1.3 M361.66 143 v1.3 M364.55 230.8 v-2.0 M364.55 143 v2.0 M367.44 230.8 v-1.3 M367.44 143 v1.3 M370.32 230.8 v-1.3 M370.32 143 v1.3 M277 226.84 h0.9 M277 221.95 h1.6 M277 217.06 h0.9 M277 212.17 h0.9 M277 207.28 h0.9 M277 202.39 h0.9 M277 197.50 h1.6 M277 192.61 h0.9 M277 187.72 h0.9 M277 182.83 h0.9 M277 177.94 h0.9 M277 173.05 h1.6 M277 168.16 h0.9 M277 163.27 h0.9 M277 158.38 h0.9 M277 153.49 h0.9 M277 148.60 h1.6 M277 143.71 h0.9" stroke="#f2f2f2" stroke-width="0.55" fill="none"/>
<text x="272.0" y="150.79999999999998" font-size="6.3" fill="#222" text-anchor="end" font-family='"Liberation Sans", "DejaVu Sans", sans-serif'  stroke="#222" stroke-width="0.14">25</text>
<text x="272.0" y="175.25" font-size="6.3" fill="#222" text-anchor="end" font-family='"Liberation Sans", "DejaVu Sans", sans-serif'  stroke="#222" stroke-width="0.14">24</text>
<text x="272.0" y="199.7" font-size="6.3" fill="#222" text-anchor="end" font-family='"Liberation Sans", "DejaVu Sans", sans-serif'  stroke="#222" stroke-width="0.14">23</text>
<text x="272.0" y="224.14999999999998" font-size="6.3" fill="#222" text-anchor="end" font-family='"Liberation Sans", "DejaVu Sans", sans-serif'  stroke="#222" stroke-width="0.14">22</text>
<text x="278.0" y="244.0" font-size="6.3" fill="#222" text-anchor="middle" font-family='"Liberation Sans", "DejaVu Sans", sans-serif'  stroke="#222" stroke-width="0.14">0</text>
<text x="306.85" y="244.0" font-size="6.3" fill="#222" text-anchor="middle" font-family='"Liberation Sans", "DejaVu Sans", sans-serif'  stroke="#222" stroke-width="0.14">50</text>
<text x="335.7" y="244.0" font-size="6.3" fill="#222" text-anchor="middle" font-family='"Liberation Sans", "DejaVu Sans", sans-serif'  stroke="#222" stroke-width="0.14">100</text>
<text x="364.55" y="244.0" font-size="6.3" fill="#222" text-anchor="middle" font-family='"Liberation Sans", "DejaVu Sans", sans-serif'  stroke="#222" stroke-width="0.14">150</text>
<text x="261.4" y="187" font-size="6.8" fill="#222" text-anchor="middle" font-family='"Liberation Sans", "DejaVu Sans", sans-serif' transform="rotate(-90 261.4 187)"  stroke="#222" stroke-width="0.14">Frequency (THz)</text>
<text x="324" y="254.0" font-size="6.9" fill="#222" text-anchor="middle" font-family='"Liberation Sans", "DejaVu Sans", sans-serif'  stroke="#222" stroke-width="0.14">q (10<tspan dy="-2.2" font-size="4.2">6</tspan><tspan dy="2.2"> m</tspan><tspan dy="-2.2" font-size="4.2">−1</tspan><tspan dy="2.2">)</tspan></text>
<text x="385.9" y="136.0" font-size="11.2" fill="#111" text-anchor="start" font-family='"Liberation Serif", "DejaVu Serif", serif' font-style="italic"  stroke="#111" stroke-width="0.3">(g)</text>
<clipPath id="clipgL"><rect x="401.8" y="141.8" width="46.599999999999966" height="89.89999999999998"/></clipPath>
<clipPath id="clipgR"><rect x="448.4" y="141.8" width="46.200000000000045" height="89.89999999999998"/></clipPath>
<rect x="401.8" y="141.8" width="92.80000000000001" height="89.89999999999998" fill="#fcf6f4"/>
<g filter="url(#b04)"><g clip-path="url(#clipgL)"><rect x="401.8" y="141.8" width="46.599999999999966" height="89.89999999999998" fill="#f7e9ea"/><circle cx="429.3" cy="186.9" r="94.38" fill="none" stroke="#d6222c" stroke-width="4.90" opacity="0.44"/><circle cx="429.3" cy="186.9" r="88.90" fill="none" stroke="#2452a4" stroke-width="4.90" opacity="0.47"/><circle cx="429.3" cy="186.9" r="83.38" fill="none" stroke="#d6222c" stroke-width="4.90" opacity="0.51"/><circle cx="429.3" cy="186.9" r="77.90" fill="none" stroke="#2452a4" stroke-width="4.90" opacity="0.54"/><circle cx="429.3" cy="186.9" r="72.38" fill="none" stroke="#d6222c" stroke-width="4.90" opacity="0.58"/><circle cx="429.3" cy="186.9" r="66.90" fill="none" stroke="#2452a4" stroke-width="4.90" opacity="0.61"/><circle cx="429.3" cy="186.9" r="61.38" fill="none" stroke="#d6222c" stroke-width="4.90" opacity="0.65"/><circle cx="429.3" cy="186.9" r="55.90" fill="none" stroke="#2452a4" stroke-width="4.90" opacity="0.68"/><circle cx="429.3" cy="186.9" r="50.38" fill="none" stroke="#d6222c" stroke-width="4.90" opacity="0.72"/><circle cx="429.3" cy="186.9" r="44.90" fill="none" stroke="#2452a4" stroke-width="4.90" opacity="0.76"/><circle cx="429.3" cy="186.9" r="39.38" fill="none" stroke="#d6222c" stroke-width="4.90" opacity="0.79"/><circle cx="429.3" cy="186.9" r="33.90" fill="none" stroke="#2452a4" stroke-width="4.90" opacity="0.82"/><circle cx="429.3" cy="186.9" r="28.38" fill="none" stroke="#d6222c" stroke-width="4.90" opacity="0.86"/><circle cx="429.3" cy="186.9" r="22.90" fill="none" stroke="#2452a4" stroke-width="4.90" opacity="0.90"/><circle cx="429.3" cy="186.9" r="17.38" fill="none" stroke="#d6222c" stroke-width="4.90" opacity="0.93"/><circle cx="429.3" cy="186.9" r="11.90" fill="none" stroke="#2452a4" stroke-width="4.90" opacity="0.96"/><circle cx="429.3" cy="186.9" r="6.38" fill="none" stroke="#d6222c" stroke-width="4.90" opacity="1.00"/><circle cx="429.3" cy="186.9" r="3.60" fill="#2452a4" opacity="1.0"/></g></g>
<linearGradient id="gfT" x1="0" y1="0" x2="0" y2="1"><stop offset="0" stop-color="#fbeff0" stop-opacity="0.75"/><stop offset="1" stop-color="#fbeff0" stop-opacity="0"/></linearGradient>
<linearGradient id="gfB" x1="0" y1="1" x2="0" y2="0"><stop offset="0" stop-color="#fbeff0" stop-opacity="0.8"/><stop offset="1" stop-color="#fbeff0" stop-opacity="0"/></linearGradient>
<rect x="401.8" y="141.8" width="46.599999999999966" height="13" fill="url(#gfT)"/>
<rect x="401.8" y="217.7" width="46.599999999999966" height="14" fill="url(#gfB)"/>
<g filter="url(#b05)"><g clip-path="url(#clipgR)"><g opacity="0.75"><circle cx="429.3" cy="186.9" r="94.38" fill="none" stroke="#d6222c" stroke-width="4.40" opacity="0.00"/><circle cx="429.3" cy="186.9" r="88.90" fill="none" stroke="#2452a4" stroke-width="4.40" opacity="0.00"/><circle cx="429.3" cy="186.9" r="83.38" fill="none" stroke="#d6222c" stroke-width="4.40" opacity="0.00"/><circle cx="429.3" cy="186.9" r="77.90" fill="none" stroke="#2452a4" stroke-width="4.40" opacity="1.00"/><circle cx="429.3" cy="186.9" r="72.38" fill="none" stroke="#d6222c" stroke-width="4.40" opacity="1.00"/><circle cx="429.3" cy="186.9" r="66.90" fill="none" stroke="#2452a4" stroke-width="4.40" opacity="1.00"/><circle cx="429.3" cy="186.9" r="61.38" fill="none" stroke="#d6222c" stroke-width="4.40" opacity="1.00"/><circle cx="429.3" cy="186.9" r="55.90" fill="none" stroke="#2452a4" stroke-width="4.40" opacity="1.00"/><circle cx="429.3" cy="186.9" r="50.38" fill="none" stroke="#d6222c" stroke-width="4.40" opacity="1.00"/><circle cx="429.3" cy="186.9" r="44.90" fill="none" stroke="#2452a4" stroke-width="4.40" opacity="1.00"/><circle cx="429.3" cy="186.9" r="39.38" fill="none" stroke="#d6222c" stroke-width="4.40" opacity="1.00"/><circle cx="429.3" cy="186.9" r="33.90" fill="none" stroke="#2452a4" stroke-width="4.40" opacity="1.00"/><circle cx="429.3" cy="186.9" r="28.38" fill="none" stroke="#d6222c" stroke-width="4.40" opacity="1.00"/><circle cx="429.3" cy="186.9" r="22.90" fill="none" stroke="#2452a4" stroke-width="4.40" opacity="1.00"/><circle cx="429.3" cy="186.9" r="17.38" fill="none" stroke="#d6222c" stroke-width="4.40" opacity="0.00"/><circle cx="429.3" cy="186.9" r="11.90" fill="none" stroke="#2452a4" stroke-width="4.40" opacity="0.00"/><circle cx="429.3" cy="186.9" r="6.38" fill="none" stroke="#d6222c" stroke-width="4.40" opacity="0.00"/></g></g></g>
<linearGradient id="gfade" x1="0" y1="0" x2="1" y2="0"><stop offset="0" stop-color="#fcf6f4" stop-opacity="0.15"/><stop offset="0.45" stop-color="#fcf6f4" stop-opacity="0.8"/><stop offset="1" stop-color="#fcf6f4" stop-opacity="1"/></linearGradient>
<rect x="449.0" y="141.8" width="11" height="89.89999999999998" fill="url(#gfade)"/>
<rect x="459.9" y="141.8" width="34.700000000000045" height="89.89999999999998" fill="#fcf6f4"/>
<g filter="url(#b05)"><g clip-path="url(#clipgR)"><polygon points="453.5,186.9 464.3,173.4 475.1,186.9 464.3,200.4" fill="none" stroke="#3a66b4" stroke-width="2.3" opacity="0.26" stroke-linejoin="round"/><polygon points="449.3,186.9 464.3,168.2 479.3,186.9 464.3,205.6" fill="none" stroke="#e0444c" stroke-width="2.3" opacity="0.2" stroke-linejoin="round"/><polygon points="445.2,186.9 464.3,163.0 483.4,186.9 464.3,210.8" fill="none" stroke="#3a66b4" stroke-width="2.3" opacity="0.15" stroke-linejoin="round"/><polygon points="441.0,186.9 464.3,157.8 487.6,186.9 464.3,216.0" fill="none" stroke="#e0444c" stroke-width="2.3" opacity="0.11" stroke-linejoin="round"/><polygon points="436.9,186.9 464.3,152.6 491.7,186.9 464.3,221.2" fill="none" stroke="#3a66b4" stroke-width="2.3" opacity="0.08" stroke-linejoin="round"/><polygon points="432.7,186.9 464.3,147.4 495.9,186.9 464.3,226.4" fill="none" stroke="#e0444c" stroke-width="2.3" opacity="0.06" stroke-linejoin="round"/><ellipse cx="455.1" cy="186.9" rx="1.8" ry="4.2" fill="#3a66b4" opacity="0.2"/><ellipse cx="473.5" cy="186.9" rx="1.8" ry="4.2" fill="#3a66b4" opacity="0.2"/><ellipse cx="459.7" cy="186.9" rx="2.1" ry="4.4" fill="#dc343c" opacity="0.45"/><ellipse cx="468.90000000000003" cy="186.9" rx="2.1" ry="4.4" fill="#dc343c" opacity="0.45"/><ellipse cx="464.3" cy="178.9" rx="3.2" ry="1.8" fill="#dc343c" opacity="0.25"/><ellipse cx="464.3" cy="194.9" rx="3.2" ry="1.8" fill="#dc343c" opacity="0.25"/><ellipse cx="464.3" cy="186.9" rx="1.9" ry="3.6" fill="#2452a4" opacity="0.95"/></g></g>
<path d="M448.4 141.8 V231.7" stroke="#e8b040" stroke-width="1.3" stroke-dasharray="1.7 1.5" opacity="0.9"/>
<rect x="401.8" y="141.8" width="92.80000000000001" height="89.89999999999998" fill="none" stroke="#555" stroke-width="0.6"/>
<path d="M429.3 205.0 V191" stroke="#111" stroke-width="1.0"/><path d="M426.90000000000003 193.4 L429.3 188.2 L431.7 193.4 Z" fill="#111"/>
<path d="M464.3 205.0 V191" stroke="#111" stroke-width="1.0"/><path d="M461.90000000000003 193.4 L464.3 188.2 L466.7 193.4 Z" fill="#111"/>
<text x="429.3" y="212.4" font-size="6.4" fill="#111" text-anchor="middle" font-family='"Liberation Sans", "DejaVu Sans", sans-serif'  stroke="#111" stroke-width="0.14">Source</text>
<text x="464.3" y="212.4" font-size="6.4" fill="#111" text-anchor="middle" font-family='"Liberation Sans", "DejaVu Sans", sans-serif'  stroke="#111" stroke-width="0.14">Image</text>
<text x="398.6" y="159.0" font-size="6.3" fill="#222" text-anchor="end" font-family='"Liberation Sans", "DejaVu Sans", sans-serif'  stroke="#222" stroke-width="0.14">0.2</text>
<text x="398.6" y="189.0" font-size="6.3" fill="#222" text-anchor="end" font-family='"Liberation Sans", "DejaVu Sans", sans-serif'  stroke="#222" stroke-width="0.14">0</text>
<text x="398.6" y="219.0" font-size="6.3" fill="#222" text-anchor="end" font-family='"Liberation Sans", "DejaVu Sans", sans-serif'  stroke="#222" stroke-width="0.14">−0.2</text>
<text x="417.2" y="242.6" font-size="6.3" fill="#222" text-anchor="middle" font-family='"Liberation Sans", "DejaVu Sans", sans-serif'  stroke="#222" stroke-width="0.14">−0.2</text>
<text x="448.4" y="242.6" font-size="6.3" fill="#222" text-anchor="middle" font-family='"Liberation Sans", "DejaVu Sans", sans-serif'  stroke="#222" stroke-width="0.14">0</text>
<text x="479.59999999999997" y="242.6" font-size="6.3" fill="#222" text-anchor="middle" font-family='"Liberation Sans", "DejaVu Sans", sans-serif'  stroke="#222" stroke-width="0.14">0.2</text>
<text x="448" y="252.0" font-size="6.9" fill="#222" text-anchor="middle" font-family='"Liberation Sans", "DejaVu Sans", sans-serif'  stroke="#222" stroke-width="0.14">x (μm)</text>
<text x="385.0" y="186.6" font-size="6.9" fill="#222" text-anchor="middle" font-family='"Liberation Sans", "DejaVu Sans", sans-serif' transform="rotate(-90 385.0 186.6)"  stroke="#222" stroke-width="0.14">y (μm)</text>
<rect x="502.5" y="162" width="8.2" height="51.8" fill="url(#cbarg)"/>
<text x="506.6" y="159.8" font-size="6" fill="#333" text-anchor="middle" font-family='"Liberation Sans", "DejaVu Sans", sans-serif'  stroke="#333" stroke-width="0.14">+</text>
<text x="506.6" y="220.6" font-size="6" fill="#333" text-anchor="middle" font-family='"Liberation Sans", "DejaVu Sans", sans-serif'  stroke="#333" stroke-width="0.14">−</text>
<text x="512.0" y="189.6" font-size="6.8" fill="#222" text-anchor="start" font-family='"Liberation Sans", "DejaVu Sans", sans-serif'  stroke="#222" stroke-width="0.14">E<tspan dy="1.4" font-size="4.2">z</tspan></text>
</svg>
</body></html>
